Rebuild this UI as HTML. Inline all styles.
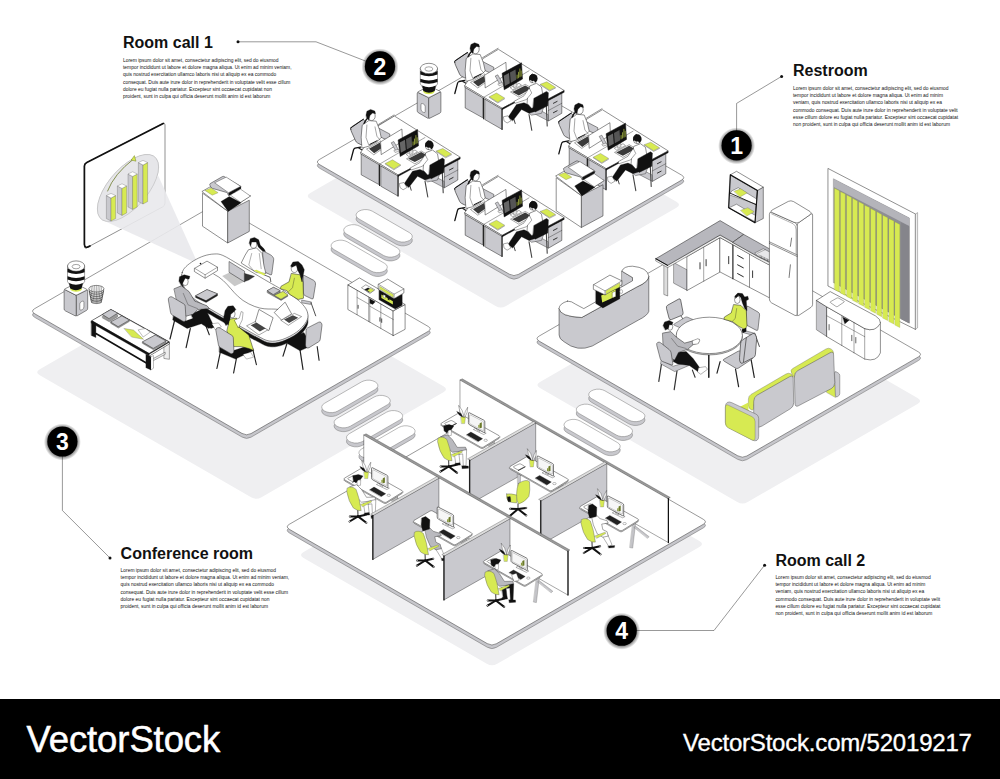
<!DOCTYPE html><html><head><meta charset="utf-8"><title>Office rooms isometric</title><style>html,body{margin:0;padding:0;background:#fff}body{width:1000px;height:779px;overflow:hidden;font-family:"Liberation Sans",sans-serif}svg{display:block}</style></head><body><svg width="1000" height="779" viewBox="0 0 1000 779" font-family="'Liberation Sans', sans-serif"><defs><radialGradient id="glow"><stop offset="0.78" stop-color="#000" stop-opacity="0.5"/><stop offset="1" stop-color="#000" stop-opacity="0"/></radialGradient></defs>
<path d="M39.8 375.2Q34.6 372.2 39.8 369.2L221.7 264.2Q226.9 261.2 232.1 264.2L443.4 386.2Q448.6 389.2 443.4 392.2L261.5 497.2Q256.3 500.2 251.1 497.2Z" fill="#efeff1" stroke="none" stroke-width="0" stroke-linejoin="round" stroke-linecap="round" />
<path d="M310.3 199Q305.1 196 310.3 193L480.6 94.7Q485.8 91.7 491 94.7L676.4 201.7Q681.6 204.7 676.4 207.7L506 306Q500.8 309 495.6 306Z" fill="#efeff1" stroke="none" stroke-width="0" stroke-linejoin="round" stroke-linecap="round" />
<path d="M540 388.1Q534.8 385.1 540 382.1L709.8 284.1Q715 281.1 720.2 284.1L917.5 397.9Q922.7 400.9 917.5 403.9L747.7 502Q742.5 505 737.3 502Z" fill="#efeff1" stroke="none" stroke-width="0" stroke-linejoin="round" stroke-linecap="round" />
<path d="M303.6 558Q298.4 555 303.6 552L505.8 435.2Q511 432.2 516.2 435.2L699.4 541Q704.6 544 699.4 547L497.2 663.8Q492 666.8 486.8 663.8Z" fill="#efeff1" stroke="none" stroke-width="0" stroke-linejoin="round" stroke-linecap="round" />
<path d="M319.4 168.1Q315.1 165.6 319.4 163.1L482.7 68.8Q487 66.3 491.3 68.8L681.6 178.7Q685.9 181.2 681.6 183.7L518.4 278Q514 280.5 509.7 278Z" fill="#c6c6cb" stroke="#666" stroke-width="0.5" stroke-linejoin="round" stroke-linecap="round" /><path d="M319.4 164.5Q315.1 162 319.4 159.5L482.7 65.2Q487 62.8 491.3 65.2L681.6 175.1Q685.9 177.6 681.6 180.1L518.4 274.4Q514 276.9 509.7 274.4Z" fill="#fff" stroke="#444" stroke-width="0.55" stroke-linejoin="round" stroke-linecap="round" />
<path d="M417.2 93.3Q417.2 92.1 418.3 92.6L427.7 97.2Q428.7 97.7 428.7 98.9L428.7 117.6Q428.7 118.8 427.7 118.2L418.3 112.7Q417.2 112.1 417.2 110.9Z" fill="#c9c9ce" stroke="#222" stroke-width="0.5" stroke-linejoin="round" stroke-linecap="round" /><path d="M428.7 98.9Q428.7 97.7 429.8 97.2L439.8 92.1Q440.9 91.6 440.9 92.8L440.9 111.4Q440.9 112.6 439.8 113.2L429.8 118.2Q428.7 118.8 428.7 117.6Z" fill="#c9c9ce" stroke="#222" stroke-width="0.5" stroke-linejoin="round" stroke-linecap="round" /><path d="M418.3 92.6Q417.2 92.1 418.3 91.6L428.2 86.7Q429.3 86.1 430.3 86.6L439.8 91.1Q440.9 91.6 439.8 92.1L429.8 97.2Q428.7 97.7 427.7 97.2Z" fill="#fff" stroke="#222" stroke-width="0.5" stroke-linejoin="round" stroke-linecap="round" /><path d="M421 104.5Q421 102.9 422.5 103.6L423.7 104.2Q425.2 104.9 425.2 106.5L425.2 111.5Q425.2 113.1 423.7 112.4L422.5 111.8Q421 111.1 421 109.5Z" fill="#fff" stroke="#222" stroke-width="0.4" stroke-linejoin="round" stroke-linecap="round" /><ellipse cx="428.9" cy="91.6" rx="5.6" ry="2.6" fill="#d7ea52"/><path d="M420.3 68.5 L420.3 83.9 L424.1 89.5 L433.9 89.5 L437.5 83.9 L437.5 68.5Z" fill="#fff" stroke="#222" stroke-width="0.4" stroke-linejoin="round" stroke-linecap="round" /><path d="M420.3 71.0 Q428.9 74.5 437.5 71.0 L437.5 74.6 Q428.9 78.1 420.3 74.6 Z" fill="#111"/><path d="M420.3 78.7 Q428.9 82.2 437.5 78.7 L437.5 82.0 Q428.9 85.5 420.3 82.0 Z" fill="#111"/><path d="M422.1 85.4 Q429.0 88.9 435.9 85.4 L434.7 90.9 Q429.0 94.4 423.3 90.9 Z" fill="#111"/><ellipse cx="428.9" cy="68.5" rx="8.6" ry="5.2" fill="#fff" stroke="#222" stroke-width="0.5"/><ellipse cx="428.9" cy="69.0" rx="4" ry="2.2" fill="#fff" stroke="#222" stroke-width="0.4"/>
<path d="M 464.6 80.5 L 459.0 81.5 Q 457.8 82.0 457.5 83.3 L 454.8 93.5" fill="none" stroke="#111" stroke-width="1.3" stroke-linejoin="round" stroke-linecap="round" /><polyline points="462.8,81.4 466.5,83.5" fill="none" stroke="#222" stroke-width="1.2" stroke-linejoin="round" stroke-linecap="round" /><path d="M454.7 62.5Q454.4 61 455.6 60.2L466.3 53.1Q467.5 52.3 468.2 53.5L468.2 53.5Q469 54.8 469 56.3L468.8 69.3Q468.8 70.8 468.2 72.2L466.4 77.1Q465.9 78.5 464.6 77.8L461.6 76.3Q460.2 75.5 459.6 74.2L455.6 65.3Q455 63.9 454.7 62.5Z" fill="#c9c9ce" stroke="#222" stroke-width="0.6" stroke-linejoin="round" stroke-linecap="round" /><polyline points="454.6,61.3 467.5,52.5" fill="none" stroke="#111" stroke-width="1.0" stroke-linejoin="round" stroke-linecap="round" /><polygon points="498.4,49.3 564.2,90.5 537.8,104.5 524,96.7 502.1,108.3 464.6,85.8 482.5,58.9" fill="#fff" stroke="#222" stroke-width="0.5" stroke-linejoin="round" /><polyline points="482.5,57.7 498,48.3" fill="none" stroke="#222" stroke-width="0.5" stroke-linejoin="round" stroke-linecap="round" /><polygon points="482.5,61.4 493.8,67.3 493.8,74.5 482.5,69.5" fill="#c9c9ce" stroke="#222" stroke-width="0.5" stroke-linejoin="round" /><polygon points="464.6,85.8 502.1,108.3 502.1,109.8 464.6,87.3" fill="#fff" stroke="#222" stroke-width="0.4" stroke-linejoin="round" /><polygon points="465.2,87.5 482.8,97.9 482.8,117.8 465.2,108" fill="#c9c9ce" stroke="#222" stroke-width="0.5" stroke-linejoin="round" /><polygon points="484.8,99.2 501.9,109.2 501.9,129.3 484.8,119.5" fill="#c9c9ce" stroke="#222" stroke-width="0.5" stroke-linejoin="round" /><polyline points="483.6,98.3 483.6,118.9" fill="none" stroke="#111" stroke-width="1.0" stroke-linejoin="round" stroke-linecap="round" /><polyline points="502.1,108.5 502.1,129.6" fill="none" stroke="#111" stroke-width="1.0" stroke-linejoin="round" stroke-linecap="round" /><polygon points="502.1,108.3 524,96.7 524,97.9 502.1,109.8" fill="#111" stroke="#111" stroke-width="0.3" stroke-linejoin="round" /><polyline points="483.8,97.3 529,70.8" fill="none" stroke="#222" stroke-width="0.4" stroke-linejoin="round" stroke-linecap="round" /><polygon points="534,107 548.4,114.8 548.4,121 534,113.5" fill="#c9c9ce" stroke="#222" stroke-width="0.4" stroke-linejoin="round" /><polygon points="548.4,100.2 561.8,93 561.8,113.3 548.4,121" fill="#c9c9ce" stroke="#222" stroke-width="0.5" stroke-linejoin="round" /><polyline points="548.4,110.5 561.8,103.3" fill="none" stroke="#222" stroke-width="0.4" stroke-linejoin="round" stroke-linecap="round" /><polyline points="553.4,103.3 557.1,101.4" fill="none" stroke="#222" stroke-width="0.9" stroke-linejoin="round" stroke-linecap="round" /><polyline points="553.4,112.7 557.1,110.8" fill="none" stroke="#222" stroke-width="0.9" stroke-linejoin="round" stroke-linecap="round" /><polygon points="537.8,104.5 564.2,90.5 564.2,92.3 537.8,106.3" fill="#111" stroke="#111" stroke-width="0.3" stroke-linejoin="round" /><polygon points="470.5,82.4 484.6,74.5 487.2,81.4 477.8,88" fill="#fff" stroke="#222" stroke-width="0.4" stroke-linejoin="round" /><polygon points="473,82 484,75.9 485.8,81.2 478.2,86.5" fill="#3a3a3a" stroke="none" stroke-width="0" stroke-linejoin="round" /><polygon points="484.6,75.2 505.9,62.3 506.5,74.5 485.2,87.9" fill="#fff" stroke="#222" stroke-width="0.5" stroke-linejoin="round" /><polygon points="495.2,76 497.8,74.8 502.5,83.3 500,84.8" fill="#c9c9ce" stroke="#222" stroke-width="0.4" stroke-linejoin="round" /><polygon points="497.8,83.9 502.1,82.7 503.4,84.5 499,85.8" fill="#eee" stroke="#222" stroke-width="0.3" stroke-linejoin="round" /><polygon points="510.2,87.7 519,83.3 521.5,85.2 512.8,89.8" fill="#fff" stroke="#222" stroke-width="0.4" stroke-linejoin="round" /><polygon points="512.8,83.9 516.5,82.3 517.1,86.4 513.8,88" fill="#ddd" stroke="#222" stroke-width="0.3" stroke-linejoin="round" /><polygon points="502.1,73.3 521.5,62.8 522.5,79 504.2,89.8" fill="#111" stroke="#111" stroke-width="0.5" stroke-linejoin="round" /><polygon points="503.8,75.8 509,73 509.8,83.3 504.8,86" fill="#666" stroke="none" stroke-width="0" stroke-linejoin="round" /><polygon points="510,72.5 515.5,69.5 516.2,79.8 510.8,82.8" fill="#555" stroke="none" stroke-width="0" stroke-linejoin="round" /><polyline points="517.1,78.5 517.1,75" fill="none" stroke="#d7ea52" stroke-width="0.5" stroke-linejoin="round" stroke-linecap="round" stroke-dasharray="0.6 0.4"/><polyline points="518.5,77.8 518.5,71.8" fill="none" stroke="#d7ea52" stroke-width="0.5" stroke-linejoin="round" stroke-linecap="round" stroke-dasharray="0.6 0.4"/><polyline points="519.9,77 519.9,68.8" fill="none" stroke="#d7ea52" stroke-width="0.5" stroke-linejoin="round" stroke-linecap="round" stroke-dasharray="0.6 0.4"/><polyline points="521.2,76.3 521.2,70.8" fill="none" stroke="#d7ea52" stroke-width="0.5" stroke-linejoin="round" stroke-linecap="round" stroke-dasharray="0.6 0.4"/><polygon points="510.5,92 525.2,84.3 533,88.8 518.8,97" fill="#fff" stroke="#222" stroke-width="0.4" stroke-linejoin="round" /><polygon points="512.2,92 525.2,85.4 531.2,88.8 518.8,95.4" fill="#3a3a3a" stroke="none" stroke-width="0" stroke-linejoin="round" /><polygon points="489.2,96.8 496.5,93 504.6,98 497.8,102.3" fill="#d7ea52" stroke="#555" stroke-width="0.3" stroke-linejoin="round" /><polyline points="489.2,97.3 497.8,103 504.6,98.8" fill="none" stroke="#666" stroke-width="0.5" stroke-linejoin="round" stroke-linecap="round" /><polygon points="540.2,84.3 546.8,81.8 555.5,87.3 549.6,90.3" fill="#d7ea52" stroke="#555" stroke-width="0.3" stroke-linejoin="round" /><polyline points="540.2,84.8 549.6,91 555.5,88" fill="none" stroke="#666" stroke-width="0.5" stroke-linejoin="round" stroke-linecap="round" /><path d="M466.5 58.3 L472.8 53.9 L480.2 54.5 L483.4 62.7 L485.2 70.8 L480.9 75.2 L472.8 79.5 L465.9 81.4 L465.2 70.8Z" fill="#fff" stroke="#222" stroke-width="0.5" stroke-linejoin="round" stroke-linecap="round" /><polyline points="470.9,58.3 470,70.8 472.8,78.3" fill="none" stroke="#222" stroke-width="0.4" stroke-linejoin="round" stroke-linecap="round" /><polyline points="479,60.2 480.9,69.5 484,73.3" fill="none" stroke="#222" stroke-width="0.4" stroke-linejoin="round" stroke-linecap="round" /><polygon points="472.8,78.9 480.9,74.5 482.1,73 474,77" fill="#111" stroke="none" stroke-width="0" stroke-linejoin="round" /><polygon points="470,52 471.8,51.5 468.8,56.8 467,57.3" fill="#111" stroke="none" stroke-width="0" stroke-linejoin="round" /><ellipse cx="475.6" cy="49.2" rx="3.6" ry="4.6" fill="#fff" stroke="#222" stroke-width="0.5"/><path d="M470.0 48.3 L470.9 44.5 L474.6 42.7 L478.8 44.3 L479.6 47.0 L476.5 46.4 L474.0 48.9 L472.8 53.3 L470.9 52.0Z" fill="#111" stroke="#111" stroke-width="0.3" stroke-linejoin="round" stroke-linecap="round" /><polyline points="529,114.5 531.8,130.3" fill="none" stroke="#444" stroke-width="1.1" stroke-linejoin="round" stroke-linecap="round" /><polyline points="546.2,103.3 547.2,126" fill="none" stroke="#444" stroke-width="1.1" stroke-linejoin="round" stroke-linecap="round" /><polyline points="514,119.5 515.2,123.5" fill="none" stroke="#444" stroke-width="1.0" stroke-linejoin="round" stroke-linecap="round" /><polygon points="523.4,108.3 534,109.5 544,106.4 541.5,113.3 531.5,115.2" fill="#c9c9ce" stroke="#222" stroke-width="0.4" stroke-linejoin="round" /><path d="M508.0 117.3 L516.5 104.5 L524.0 102.7 L534.0 107.0 L535.2 111.4 L529.0 113.3 L521.5 109.5 L512.8 120.8Z" fill="#111" stroke="#111" stroke-width="0.3" stroke-linejoin="round" stroke-linecap="round" /><polygon points="503.4,116.8 508,115.8 510.9,120.8 507.1,123 504,120.8" fill="#fff" stroke="#222" stroke-width="0.4" stroke-linejoin="round" /><path d="M530.2 85.8 L536.5 83.3 L541.5 87.0 L543.4 98.3 L540.2 106.4 L531.5 108.3 L527.1 103.3 L527.8 93.3Z" fill="#fff" stroke="#222" stroke-width="0.5" stroke-linejoin="round" stroke-linecap="round" /><path d="M529.0 88.3 L524.0 95.8 L514.0 101.4 L515.2 103.3 L526.5 99.5 L531.5 93.3Z" fill="#fff" stroke="#222" stroke-width="0.4" stroke-linejoin="round" stroke-linecap="round" /><path d="M534.0 98.3 L546.5 91.4 L548.4 92.7 L547.8 105.8 L535.2 112.0 L533.0 108.3Z" fill="#111" stroke="#111" stroke-width="0.4" stroke-linejoin="round" stroke-linecap="round" /><ellipse cx="533.4" cy="78.5" rx="4.2" ry="4.6" fill="#111"/><polygon points="530.5,81.4 534,83.3 535.5,82.7 534,80.8" fill="#fff" stroke="#222" stroke-width="0.3" stroke-linejoin="round" /><path d="M 529.5 79.8 Q 528.8 75.2 532.5 74.0" fill="none" stroke="#111" stroke-width="0.9" stroke-linejoin="round" stroke-linecap="round" /><path d="M529.8 79.8 L531.8 80.8 L532.2 83.0 L530.5 82.3Z" fill="#fff" stroke="#222" stroke-width="0.3" stroke-linejoin="round" stroke-linecap="round" />
<path d="M 360.6 147.2 L 355.0 148.2 Q 353.8 148.8 353.5 150.0 L 350.8 160.2" fill="none" stroke="#111" stroke-width="1.3" stroke-linejoin="round" stroke-linecap="round" /><polyline points="358.8,148.1 362.5,150.2" fill="none" stroke="#222" stroke-width="1.2" stroke-linejoin="round" stroke-linecap="round" /><path d="M350.7 129.2Q350.4 127.8 351.6 126.9L362.3 119.8Q363.5 119 364.2 120.2L364.2 120.2Q365 121.5 365 123L364.8 136Q364.8 137.5 364.2 138.9L362.4 143.8Q361.9 145.2 360.6 144.5L357.6 143Q356.2 142.2 355.6 140.9L351.6 132Q351 130.6 350.7 129.2Z" fill="#c9c9ce" stroke="#222" stroke-width="0.6" stroke-linejoin="round" stroke-linecap="round" /><polyline points="350.6,128 363.5,119.2" fill="none" stroke="#111" stroke-width="1.0" stroke-linejoin="round" stroke-linecap="round" /><polygon points="394.4,116 460.2,157.2 433.8,171.2 420,163.4 398.1,175 360.6,152.5 378.5,125.6" fill="#fff" stroke="#222" stroke-width="0.5" stroke-linejoin="round" /><polyline points="378.5,124.4 394,115" fill="none" stroke="#222" stroke-width="0.5" stroke-linejoin="round" stroke-linecap="round" /><polygon points="378.5,128.1 389.8,134 389.8,141.2 378.5,136.2" fill="#c9c9ce" stroke="#222" stroke-width="0.5" stroke-linejoin="round" /><polygon points="360.6,152.5 398.1,175 398.1,176.5 360.6,154" fill="#fff" stroke="#222" stroke-width="0.4" stroke-linejoin="round" /><polygon points="361.2,154.2 378.8,164.6 378.8,184.5 361.2,174.8" fill="#c9c9ce" stroke="#222" stroke-width="0.5" stroke-linejoin="round" /><polygon points="380.8,165.9 397.9,175.9 397.9,196 380.8,186.2" fill="#c9c9ce" stroke="#222" stroke-width="0.5" stroke-linejoin="round" /><polyline points="379.6,165 379.6,185.6" fill="none" stroke="#111" stroke-width="1.0" stroke-linejoin="round" stroke-linecap="round" /><polyline points="398.1,175.2 398.1,196.2" fill="none" stroke="#111" stroke-width="1.0" stroke-linejoin="round" stroke-linecap="round" /><polygon points="398.1,175 420,163.4 420,164.6 398.1,176.5" fill="#111" stroke="#111" stroke-width="0.3" stroke-linejoin="round" /><polyline points="379.8,164 425,137.5" fill="none" stroke="#222" stroke-width="0.4" stroke-linejoin="round" stroke-linecap="round" /><polygon points="430,173.8 444.4,181.5 444.4,187.8 430,180.2" fill="#c9c9ce" stroke="#222" stroke-width="0.4" stroke-linejoin="round" /><polygon points="444.4,166.9 457.8,159.8 457.8,180 444.4,187.8" fill="#c9c9ce" stroke="#222" stroke-width="0.5" stroke-linejoin="round" /><polyline points="444.4,177.2 457.8,170" fill="none" stroke="#222" stroke-width="0.4" stroke-linejoin="round" stroke-linecap="round" /><polyline points="449.4,170 453.1,168.1" fill="none" stroke="#222" stroke-width="0.9" stroke-linejoin="round" stroke-linecap="round" /><polyline points="449.4,179.4 453.1,177.5" fill="none" stroke="#222" stroke-width="0.9" stroke-linejoin="round" stroke-linecap="round" /><polygon points="433.8,171.2 460.2,157.2 460.2,159 433.8,173" fill="#111" stroke="#111" stroke-width="0.3" stroke-linejoin="round" /><polygon points="366.5,149.1 380.6,141.2 383.2,148.1 373.8,154.8" fill="#fff" stroke="#222" stroke-width="0.4" stroke-linejoin="round" /><polygon points="369,148.8 380,142.6 381.8,147.9 374.2,153.2" fill="#3a3a3a" stroke="none" stroke-width="0" stroke-linejoin="round" /><polygon points="380.6,141.9 401.9,129 402.5,141.2 381.2,154.6" fill="#fff" stroke="#222" stroke-width="0.5" stroke-linejoin="round" /><polygon points="391.2,142.8 393.8,141.5 398.5,150 396,151.5" fill="#c9c9ce" stroke="#222" stroke-width="0.4" stroke-linejoin="round" /><polygon points="393.8,150.6 398.1,149.4 399.4,151.2 395,152.5" fill="#eee" stroke="#222" stroke-width="0.3" stroke-linejoin="round" /><polygon points="406.2,154.4 415,150 417.5,151.9 408.8,156.5" fill="#fff" stroke="#222" stroke-width="0.4" stroke-linejoin="round" /><polygon points="408.8,150.6 412.5,149 413.1,153.1 409.8,154.8" fill="#ddd" stroke="#222" stroke-width="0.3" stroke-linejoin="round" /><polygon points="398.1,140 417.5,129.5 418.5,145.8 400.2,156.5" fill="#111" stroke="#111" stroke-width="0.5" stroke-linejoin="round" /><polygon points="399.8,142.5 405,139.8 405.8,150 400.8,152.8" fill="#666" stroke="none" stroke-width="0" stroke-linejoin="round" /><polygon points="406,139.2 411.5,136.2 412.2,146.5 406.8,149.5" fill="#555" stroke="none" stroke-width="0" stroke-linejoin="round" /><polyline points="413.1,145.2 413.1,141.8" fill="none" stroke="#d7ea52" stroke-width="0.5" stroke-linejoin="round" stroke-linecap="round" stroke-dasharray="0.6 0.4"/><polyline points="414.5,144.5 414.5,138.5" fill="none" stroke="#d7ea52" stroke-width="0.5" stroke-linejoin="round" stroke-linecap="round" stroke-dasharray="0.6 0.4"/><polyline points="415.9,143.8 415.9,135.5" fill="none" stroke="#d7ea52" stroke-width="0.5" stroke-linejoin="round" stroke-linecap="round" stroke-dasharray="0.6 0.4"/><polyline points="417.2,143 417.2,137.5" fill="none" stroke="#d7ea52" stroke-width="0.5" stroke-linejoin="round" stroke-linecap="round" stroke-dasharray="0.6 0.4"/><polygon points="406.5,158.8 421.2,151 429,155.5 414.8,163.8" fill="#fff" stroke="#222" stroke-width="0.4" stroke-linejoin="round" /><polygon points="408.2,158.8 421.2,152.1 427.2,155.5 414.8,162.1" fill="#3a3a3a" stroke="none" stroke-width="0" stroke-linejoin="round" /><polygon points="385.2,163.5 392.5,159.8 400.6,164.8 393.8,169" fill="#d7ea52" stroke="#555" stroke-width="0.3" stroke-linejoin="round" /><polyline points="385.2,164 393.8,169.8 400.6,165.5" fill="none" stroke="#666" stroke-width="0.5" stroke-linejoin="round" stroke-linecap="round" /><polygon points="436.2,151 442.8,148.5 451.5,154 445.6,157" fill="#d7ea52" stroke="#555" stroke-width="0.3" stroke-linejoin="round" /><polyline points="436.2,151.5 445.6,157.8 451.5,154.8" fill="none" stroke="#666" stroke-width="0.5" stroke-linejoin="round" stroke-linecap="round" /><path d="M362.5 125.0 L368.8 120.6 L376.2 121.2 L379.4 129.4 L381.2 137.5 L376.9 141.9 L368.8 146.2 L361.9 148.1 L361.2 137.5Z" fill="#fff" stroke="#222" stroke-width="0.5" stroke-linejoin="round" stroke-linecap="round" /><polyline points="366.9,125 366,137.5 368.8,145" fill="none" stroke="#222" stroke-width="0.4" stroke-linejoin="round" stroke-linecap="round" /><polyline points="375,126.9 376.9,136.2 380,140" fill="none" stroke="#222" stroke-width="0.4" stroke-linejoin="round" stroke-linecap="round" /><polygon points="368.8,145.6 376.9,141.2 378.1,139.8 370,143.8" fill="#111" stroke="none" stroke-width="0" stroke-linejoin="round" /><polygon points="366,118.8 367.8,118.2 364.8,123.5 363,124" fill="#111" stroke="none" stroke-width="0" stroke-linejoin="round" /><ellipse cx="371.6" cy="116.0" rx="3.6" ry="4.6" fill="#fff" stroke="#222" stroke-width="0.5"/><path d="M366.0 115.0 L366.9 111.2 L370.6 109.4 L374.8 111.0 L375.6 113.8 L372.5 113.1 L370.0 115.6 L368.8 120.0 L366.9 118.8Z" fill="#111" stroke="#111" stroke-width="0.3" stroke-linejoin="round" stroke-linecap="round" /><polyline points="425,181.2 427.8,197" fill="none" stroke="#444" stroke-width="1.1" stroke-linejoin="round" stroke-linecap="round" /><polyline points="442.2,170 443.2,192.8" fill="none" stroke="#444" stroke-width="1.1" stroke-linejoin="round" stroke-linecap="round" /><polyline points="410,186.2 411.2,190.2" fill="none" stroke="#444" stroke-width="1.0" stroke-linejoin="round" stroke-linecap="round" /><polygon points="419.4,175 430,176.2 440,173.1 437.5,180 427.5,181.9" fill="#c9c9ce" stroke="#222" stroke-width="0.4" stroke-linejoin="round" /><path d="M404.0 184.0 L412.5 171.2 L420.0 169.4 L430.0 173.8 L431.2 178.1 L425.0 180.0 L417.5 176.2 L408.8 187.5Z" fill="#111" stroke="#111" stroke-width="0.3" stroke-linejoin="round" stroke-linecap="round" /><polygon points="399.4,183.5 404,182.5 406.9,187.5 403.1,189.8 400,187.5" fill="#fff" stroke="#222" stroke-width="0.4" stroke-linejoin="round" /><path d="M426.2 152.5 L432.5 150.0 L437.5 153.8 L439.4 165.0 L436.2 173.1 L427.5 175.0 L423.1 170.0 L423.8 160.0Z" fill="#fff" stroke="#222" stroke-width="0.5" stroke-linejoin="round" stroke-linecap="round" /><path d="M425.0 155.0 L420.0 162.5 L410.0 168.1 L411.2 170.0 L422.5 166.2 L427.5 160.0Z" fill="#fff" stroke="#222" stroke-width="0.4" stroke-linejoin="round" stroke-linecap="round" /><path d="M430.0 165.0 L442.5 158.1 L444.4 159.4 L443.8 172.5 L431.2 178.8 L429.0 175.0Z" fill="#111" stroke="#111" stroke-width="0.4" stroke-linejoin="round" stroke-linecap="round" /><ellipse cx="429.4" cy="145.2" rx="4.2" ry="4.6" fill="#111"/><polygon points="426.5,148.1 430,150 431.5,149.4 430,147.5" fill="#fff" stroke="#222" stroke-width="0.3" stroke-linejoin="round" /><path d="M 425.5 146.5 Q 424.8 141.9 428.5 140.8" fill="none" stroke="#111" stroke-width="0.9" stroke-linejoin="round" stroke-linecap="round" /><path d="M425.8 146.5 L427.8 147.5 L428.2 149.8 L426.5 149.0Z" fill="#fff" stroke="#222" stroke-width="0.3" stroke-linejoin="round" stroke-linecap="round" />
<path d="M 568.6 140.9 L 563.0 141.9 Q 561.8 142.4 561.5 143.7 L 558.8 153.9" fill="none" stroke="#111" stroke-width="1.3" stroke-linejoin="round" stroke-linecap="round" /><polyline points="566.8,141.8 570.5,143.9" fill="none" stroke="#222" stroke-width="1.2" stroke-linejoin="round" stroke-linecap="round" /><path d="M558.7 122.9Q558.4 121.5 559.6 120.6L570.3 113.5Q571.5 112.7 572.2 114L572.2 114Q573 115.2 573 116.7L572.8 129.7Q572.8 131.2 572.2 132.6L570.4 137.5Q569.9 138.9 568.6 138.2L565.6 136.7Q564.2 135.9 563.6 134.6L559.6 125.7Q559 124.3 558.7 122.9Z" fill="#c9c9ce" stroke="#222" stroke-width="0.6" stroke-linejoin="round" stroke-linecap="round" /><polyline points="558.6,121.7 571.5,113" fill="none" stroke="#111" stroke-width="1.0" stroke-linejoin="round" stroke-linecap="round" /><polygon points="602.4,109.7 668.2,150.9 641.8,164.9 628,157.1 606.1,168.7 568.6,146.2 586.5,119.3" fill="#fff" stroke="#222" stroke-width="0.5" stroke-linejoin="round" /><polyline points="586.5,118.1 602,108.7" fill="none" stroke="#222" stroke-width="0.5" stroke-linejoin="round" stroke-linecap="round" /><polygon points="586.5,121.8 597.8,127.7 597.8,134.9 586.5,129.9" fill="#c9c9ce" stroke="#222" stroke-width="0.5" stroke-linejoin="round" /><polygon points="568.6,146.2 606.1,168.7 606.1,170.2 568.6,147.7" fill="#fff" stroke="#222" stroke-width="0.4" stroke-linejoin="round" /><polygon points="569.2,147.9 586.8,158.3 586.8,178.2 569.2,168.4" fill="#c9c9ce" stroke="#222" stroke-width="0.5" stroke-linejoin="round" /><polygon points="588.8,159.6 605.9,169.6 605.9,189.7 588.8,179.9" fill="#c9c9ce" stroke="#222" stroke-width="0.5" stroke-linejoin="round" /><polyline points="587.6,158.7 587.6,179.3" fill="none" stroke="#111" stroke-width="1.0" stroke-linejoin="round" stroke-linecap="round" /><polyline points="606.1,168.9 606.1,189.9" fill="none" stroke="#111" stroke-width="1.0" stroke-linejoin="round" stroke-linecap="round" /><polygon points="606.1,168.7 628,157.1 628,158.3 606.1,170.2" fill="#111" stroke="#111" stroke-width="0.3" stroke-linejoin="round" /><polyline points="587.8,157.7 633,131.2" fill="none" stroke="#222" stroke-width="0.4" stroke-linejoin="round" stroke-linecap="round" /><polygon points="638,167.4 652.4,175.2 652.4,181.4 638,173.9" fill="#c9c9ce" stroke="#222" stroke-width="0.4" stroke-linejoin="round" /><polygon points="652.4,160.6 665.8,153.4 665.8,173.7 652.4,181.4" fill="#c9c9ce" stroke="#222" stroke-width="0.5" stroke-linejoin="round" /><polyline points="652.4,170.9 665.8,163.7" fill="none" stroke="#222" stroke-width="0.4" stroke-linejoin="round" stroke-linecap="round" /><polyline points="657.4,163.7 661.1,161.8" fill="none" stroke="#222" stroke-width="0.9" stroke-linejoin="round" stroke-linecap="round" /><polyline points="657.4,173.1 661.1,171.2" fill="none" stroke="#222" stroke-width="0.9" stroke-linejoin="round" stroke-linecap="round" /><polygon points="641.8,164.9 668.2,150.9 668.2,152.7 641.8,166.7" fill="#111" stroke="#111" stroke-width="0.3" stroke-linejoin="round" /><polygon points="574.5,142.8 588.6,134.9 591.2,141.8 581.8,148.4" fill="#fff" stroke="#222" stroke-width="0.4" stroke-linejoin="round" /><polygon points="577,142.4 588,136.3 589.8,141.6 582.2,146.9" fill="#3a3a3a" stroke="none" stroke-width="0" stroke-linejoin="round" /><polygon points="588.6,135.6 609.9,122.7 610.5,134.9 589.2,148.3" fill="#fff" stroke="#222" stroke-width="0.5" stroke-linejoin="round" /><polygon points="599.2,136.4 601.8,135.2 606.5,143.7 604,145.2" fill="#c9c9ce" stroke="#222" stroke-width="0.4" stroke-linejoin="round" /><polygon points="601.8,144.3 606.1,143.1 607.4,144.9 603,146.2" fill="#eee" stroke="#222" stroke-width="0.3" stroke-linejoin="round" /><polygon points="614.2,148.1 623,143.7 625.5,145.6 616.8,150.2" fill="#fff" stroke="#222" stroke-width="0.4" stroke-linejoin="round" /><polygon points="616.8,144.3 620.5,142.7 621.1,146.8 617.8,148.4" fill="#ddd" stroke="#222" stroke-width="0.3" stroke-linejoin="round" /><polygon points="606.1,133.7 625.5,123.2 626.5,139.4 608.2,150.2" fill="#111" stroke="#111" stroke-width="0.5" stroke-linejoin="round" /><polygon points="607.8,136.2 613,133.4 613.8,143.7 608.8,146.4" fill="#666" stroke="none" stroke-width="0" stroke-linejoin="round" /><polygon points="614,132.9 619.5,129.9 620.2,140.2 614.8,143.2" fill="#555" stroke="none" stroke-width="0" stroke-linejoin="round" /><polyline points="621.1,138.9 621.1,135.4" fill="none" stroke="#d7ea52" stroke-width="0.5" stroke-linejoin="round" stroke-linecap="round" stroke-dasharray="0.6 0.4"/><polyline points="622.5,138.2 622.5,132.2" fill="none" stroke="#d7ea52" stroke-width="0.5" stroke-linejoin="round" stroke-linecap="round" stroke-dasharray="0.6 0.4"/><polyline points="623.9,137.4 623.9,129.2" fill="none" stroke="#d7ea52" stroke-width="0.5" stroke-linejoin="round" stroke-linecap="round" stroke-dasharray="0.6 0.4"/><polyline points="625.2,136.7 625.2,131.2" fill="none" stroke="#d7ea52" stroke-width="0.5" stroke-linejoin="round" stroke-linecap="round" stroke-dasharray="0.6 0.4"/><polygon points="614.5,152.4 629.2,144.7 637,149.2 622.8,157.4" fill="#fff" stroke="#222" stroke-width="0.4" stroke-linejoin="round" /><polygon points="616.2,152.4 629.2,145.8 635.2,149.2 622.8,155.8" fill="#3a3a3a" stroke="none" stroke-width="0" stroke-linejoin="round" /><polygon points="593.2,157.2 600.5,153.4 608.6,158.4 601.8,162.7" fill="#d7ea52" stroke="#555" stroke-width="0.3" stroke-linejoin="round" /><polyline points="593.2,157.7 601.8,163.4 608.6,159.2" fill="none" stroke="#666" stroke-width="0.5" stroke-linejoin="round" stroke-linecap="round" /><polygon points="644.2,144.7 650.8,142.2 659.5,147.7 653.6,150.7" fill="#d7ea52" stroke="#555" stroke-width="0.3" stroke-linejoin="round" /><polyline points="644.2,145.2 653.6,151.4 659.5,148.4" fill="none" stroke="#666" stroke-width="0.5" stroke-linejoin="round" stroke-linecap="round" /><path d="M570.5 118.7 L576.8 114.3 L584.2 115.0 L587.4 123.1 L589.2 131.2 L584.9 135.6 L576.8 139.9 L569.9 141.8 L569.2 131.2Z" fill="#fff" stroke="#222" stroke-width="0.5" stroke-linejoin="round" stroke-linecap="round" /><polyline points="574.9,118.7 574,131.2 576.8,138.7" fill="none" stroke="#222" stroke-width="0.4" stroke-linejoin="round" stroke-linecap="round" /><polyline points="583,120.6 584.9,129.9 588,133.7" fill="none" stroke="#222" stroke-width="0.4" stroke-linejoin="round" stroke-linecap="round" /><polygon points="576.8,139.3 584.9,134.9 586.1,133.4 578,137.4" fill="#111" stroke="none" stroke-width="0" stroke-linejoin="round" /><polygon points="574,112.5 575.8,112 572.8,117.2 571,117.7" fill="#111" stroke="none" stroke-width="0" stroke-linejoin="round" /><ellipse cx="579.6" cy="109.7" rx="3.6" ry="4.6" fill="#fff" stroke="#222" stroke-width="0.5"/><path d="M574.0 108.7 L574.9 105.0 L578.6 103.1 L582.8 104.7 L583.6 107.5 L580.5 106.8 L578.0 109.3 L576.8 113.7 L574.9 112.5Z" fill="#111" stroke="#111" stroke-width="0.3" stroke-linejoin="round" stroke-linecap="round" /><polyline points="633,174.9 635.8,190.7" fill="none" stroke="#444" stroke-width="1.1" stroke-linejoin="round" stroke-linecap="round" /><polyline points="650.2,163.7 651.2,186.4" fill="none" stroke="#444" stroke-width="1.1" stroke-linejoin="round" stroke-linecap="round" /><polyline points="618,179.9 619.2,183.9" fill="none" stroke="#444" stroke-width="1.0" stroke-linejoin="round" stroke-linecap="round" /><polygon points="627.4,168.7 638,169.9 648,166.8 645.5,173.7 635.5,175.6" fill="#c9c9ce" stroke="#222" stroke-width="0.4" stroke-linejoin="round" /><path d="M612.0 177.7 L620.5 164.9 L628.0 163.1 L638.0 167.4 L639.2 171.8 L633.0 173.7 L625.5 169.9 L616.8 181.2Z" fill="#111" stroke="#111" stroke-width="0.3" stroke-linejoin="round" stroke-linecap="round" /><polygon points="607.4,177.2 612,176.2 614.9,181.2 611.1,183.4 608,181.2" fill="#fff" stroke="#222" stroke-width="0.4" stroke-linejoin="round" /><path d="M634.2 146.2 L640.5 143.7 L645.5 147.4 L647.4 158.7 L644.2 166.8 L635.5 168.7 L631.1 163.7 L631.8 153.7Z" fill="#fff" stroke="#222" stroke-width="0.5" stroke-linejoin="round" stroke-linecap="round" /><path d="M633.0 148.7 L628.0 156.2 L618.0 161.8 L619.2 163.7 L630.5 159.9 L635.5 153.7Z" fill="#fff" stroke="#222" stroke-width="0.4" stroke-linejoin="round" stroke-linecap="round" /><path d="M638.0 158.7 L650.5 151.8 L652.4 153.1 L651.8 166.2 L639.2 172.4 L637.0 168.7Z" fill="#111" stroke="#111" stroke-width="0.4" stroke-linejoin="round" stroke-linecap="round" /><ellipse cx="637.4" cy="138.9" rx="4.2" ry="4.6" fill="#111"/><polygon points="634.5,141.8 638,143.7 639.5,143.1 638,141.2" fill="#fff" stroke="#222" stroke-width="0.3" stroke-linejoin="round" /><path d="M 633.5 140.2 Q 632.8 135.6 636.5 134.4" fill="none" stroke="#111" stroke-width="0.9" stroke-linejoin="round" stroke-linecap="round" /><path d="M633.8 140.2 L635.8 141.2 L636.2 143.4 L634.5 142.7Z" fill="#fff" stroke="#222" stroke-width="0.3" stroke-linejoin="round" stroke-linecap="round" />
<polygon points="556.2,177.7 581.4,195.7 581.4,227.5 556.2,210.7" fill="#fff" stroke="#222" stroke-width="0.5" stroke-linejoin="round" /><polygon points="581.4,195.7 603,184.7 603,215.9 581.4,227.5" fill="#c9c9ce" stroke="#222" stroke-width="0.5" stroke-linejoin="round" /><polygon points="555.6,176 563.7,171.4 604.2,180.3 581.4,195.7" fill="#fff" stroke="#222" stroke-width="0.5" stroke-linejoin="round" /><polygon points="574.7,186.1 583,181 594.9,187.2 581.8,195.9" fill="#111" stroke="#111" stroke-width="0.3" stroke-linejoin="round" /><polygon points="583.9,179.5 594.3,173.7 604.2,180.6 594.3,186.8" fill="#fff" stroke="#222" stroke-width="0.4" stroke-linejoin="round" /><path d="M563.5 169.4Q563.1 168.5 564 168L576.1 161.1Q577 160.6 577.9 161.1L594.6 170.9Q595.5 171.4 594.7 171.9L583 179.7Q582.2 180.3 581.8 179.4L581.4 178.1Q581 177.2 580.1 176.9L565.8 172.8Q564.9 172.5 564.5 171.6Z" fill="#c9c9ce" stroke="#222" stroke-width="0.5" stroke-linejoin="round" stroke-linecap="round" /><polygon points="568.3,167.3 579.9,161.6 594.3,170.8 582.2,177.2" fill="#fff" stroke="#222" stroke-width="0.4" stroke-linejoin="round" /><polygon points="582.2,177.5 594.3,171 594.9,173.1 582.5,180.3" fill="#111" stroke="none" stroke-width="0" stroke-linejoin="round" /><polygon points="558.5,174.9 564.9,172.5 571.8,177.2 566,179.7" fill="#d7ea52" stroke="#666" stroke-width="0.3" stroke-linejoin="round" />
<path d="M 464.6 207.7 L 459.0 208.7 Q 457.8 209.2 457.5 210.4 L 454.8 220.7" fill="none" stroke="#111" stroke-width="1.3" stroke-linejoin="round" stroke-linecap="round" /><polyline points="462.8,208.5 466.5,210.7" fill="none" stroke="#222" stroke-width="1.2" stroke-linejoin="round" stroke-linecap="round" /><path d="M454.7 189.6Q454.4 188.2 455.6 187.3L466.3 180.2Q467.5 179.4 468.2 180.7L468.2 180.7Q469 181.9 469 183.4L468.8 196.4Q468.8 197.9 468.2 199.3L466.4 204.2Q465.9 205.7 464.6 204.9L461.6 203.4Q460.2 202.7 459.6 201.3L455.6 192.4Q455 191 454.7 189.6Z" fill="#c9c9ce" stroke="#222" stroke-width="0.6" stroke-linejoin="round" stroke-linecap="round" /><polyline points="454.6,188.4 467.5,179.7" fill="none" stroke="#111" stroke-width="1.0" stroke-linejoin="round" stroke-linecap="round" /><polygon points="498.4,176.4 564.2,217.7 537.8,231.7 524,223.8 502.1,235.4 464.6,212.9 482.5,186" fill="#fff" stroke="#222" stroke-width="0.5" stroke-linejoin="round" /><polyline points="482.5,184.8 498,175.4" fill="none" stroke="#222" stroke-width="0.5" stroke-linejoin="round" stroke-linecap="round" /><polygon points="482.5,188.5 493.8,194.4 493.8,201.7 482.5,196.7" fill="#c9c9ce" stroke="#222" stroke-width="0.5" stroke-linejoin="round" /><polygon points="464.6,212.9 502.1,235.4 502.1,236.9 464.6,214.4" fill="#fff" stroke="#222" stroke-width="0.4" stroke-linejoin="round" /><polygon points="465.2,214.7 482.8,225 482.8,244.9 465.2,235.2" fill="#c9c9ce" stroke="#222" stroke-width="0.5" stroke-linejoin="round" /><polygon points="484.8,226.3 501.9,236.3 501.9,256.4 484.8,246.7" fill="#c9c9ce" stroke="#222" stroke-width="0.5" stroke-linejoin="round" /><polyline points="483.6,225.4 483.6,246" fill="none" stroke="#111" stroke-width="1.0" stroke-linejoin="round" stroke-linecap="round" /><polyline points="502.1,235.7 502.1,256.6" fill="none" stroke="#111" stroke-width="1.0" stroke-linejoin="round" stroke-linecap="round" /><polygon points="502.1,235.4 524,223.8 524,225 502.1,236.9" fill="#111" stroke="#111" stroke-width="0.3" stroke-linejoin="round" /><polyline points="483.8,224.4 529,197.9" fill="none" stroke="#222" stroke-width="0.4" stroke-linejoin="round" stroke-linecap="round" /><polygon points="534,234.2 548.4,241.9 548.4,248.2 534,240.7" fill="#c9c9ce" stroke="#222" stroke-width="0.4" stroke-linejoin="round" /><polygon points="548.4,227.3 561.8,220.2 561.8,240.4 548.4,248.2" fill="#c9c9ce" stroke="#222" stroke-width="0.5" stroke-linejoin="round" /><polyline points="548.4,237.7 561.8,230.4" fill="none" stroke="#222" stroke-width="0.4" stroke-linejoin="round" stroke-linecap="round" /><polyline points="553.4,230.4 557.1,228.5" fill="none" stroke="#222" stroke-width="0.9" stroke-linejoin="round" stroke-linecap="round" /><polyline points="553.4,239.8 557.1,237.9" fill="none" stroke="#222" stroke-width="0.9" stroke-linejoin="round" stroke-linecap="round" /><polygon points="537.8,231.7 564.2,217.7 564.2,219.4 537.8,233.4" fill="#111" stroke="#111" stroke-width="0.3" stroke-linejoin="round" /><polygon points="470.5,209.5 484.6,201.7 487.2,208.5 477.8,215.2" fill="#fff" stroke="#222" stroke-width="0.4" stroke-linejoin="round" /><polygon points="473,209.2 484,203 485.8,208.3 478.2,213.7" fill="#3a3a3a" stroke="none" stroke-width="0" stroke-linejoin="round" /><polygon points="484.6,202.3 505.9,189.4 506.5,201.7 485.2,215" fill="#fff" stroke="#222" stroke-width="0.5" stroke-linejoin="round" /><polygon points="495.2,203.2 497.8,201.9 502.5,210.4 500,211.9" fill="#c9c9ce" stroke="#222" stroke-width="0.4" stroke-linejoin="round" /><polygon points="497.8,211 502.1,209.8 503.4,211.7 499,212.9" fill="#eee" stroke="#222" stroke-width="0.3" stroke-linejoin="round" /><polygon points="510.2,214.8 519,210.4 521.5,212.3 512.8,216.9" fill="#fff" stroke="#222" stroke-width="0.4" stroke-linejoin="round" /><polygon points="512.8,211 516.5,209.4 517.1,213.5 513.8,215.2" fill="#ddd" stroke="#222" stroke-width="0.3" stroke-linejoin="round" /><polygon points="502.1,200.4 521.5,189.9 522.5,206.2 504.2,216.9" fill="#111" stroke="#111" stroke-width="0.5" stroke-linejoin="round" /><polygon points="503.8,202.9 509,200.2 509.8,210.4 504.8,213.2" fill="#666" stroke="none" stroke-width="0" stroke-linejoin="round" /><polygon points="510,199.7 515.5,196.7 516.2,206.9 510.8,209.9" fill="#555" stroke="none" stroke-width="0" stroke-linejoin="round" /><polyline points="517.1,205.7 517.1,202.2" fill="none" stroke="#d7ea52" stroke-width="0.5" stroke-linejoin="round" stroke-linecap="round" stroke-dasharray="0.6 0.4"/><polyline points="518.5,204.9 518.5,198.9" fill="none" stroke="#d7ea52" stroke-width="0.5" stroke-linejoin="round" stroke-linecap="round" stroke-dasharray="0.6 0.4"/><polyline points="519.9,204.2 519.9,195.9" fill="none" stroke="#d7ea52" stroke-width="0.5" stroke-linejoin="round" stroke-linecap="round" stroke-dasharray="0.6 0.4"/><polyline points="521.2,203.4 521.2,197.9" fill="none" stroke="#d7ea52" stroke-width="0.5" stroke-linejoin="round" stroke-linecap="round" stroke-dasharray="0.6 0.4"/><polygon points="510.5,219.2 525.2,211.4 533,215.9 518.8,224.2" fill="#fff" stroke="#222" stroke-width="0.4" stroke-linejoin="round" /><polygon points="512.2,219.2 525.2,212.5 531.2,215.9 518.8,222.5" fill="#3a3a3a" stroke="none" stroke-width="0" stroke-linejoin="round" /><polygon points="489.2,223.9 496.5,220.2 504.6,225.2 497.8,229.4" fill="#d7ea52" stroke="#555" stroke-width="0.3" stroke-linejoin="round" /><polyline points="489.2,224.4 497.8,230.2 504.6,225.9" fill="none" stroke="#666" stroke-width="0.5" stroke-linejoin="round" stroke-linecap="round" /><polygon points="540.2,211.4 546.8,208.9 555.5,214.4 549.6,217.4" fill="#d7ea52" stroke="#555" stroke-width="0.3" stroke-linejoin="round" /><polyline points="540.2,211.9 549.6,218.2 555.5,215.2" fill="none" stroke="#666" stroke-width="0.5" stroke-linejoin="round" stroke-linecap="round" /><path d="M466.5 185.4 L472.8 181.0 L480.2 181.7 L483.4 189.8 L485.2 197.9 L480.9 202.3 L472.8 206.7 L465.9 208.5 L465.2 197.9Z" fill="#fff" stroke="#222" stroke-width="0.5" stroke-linejoin="round" stroke-linecap="round" /><polyline points="470.9,185.4 470,197.9 472.8,205.4" fill="none" stroke="#222" stroke-width="0.4" stroke-linejoin="round" stroke-linecap="round" /><polyline points="479,187.3 480.9,196.7 484,200.4" fill="none" stroke="#222" stroke-width="0.4" stroke-linejoin="round" stroke-linecap="round" /><polygon points="472.8,206 480.9,201.7 482.1,200.2 474,204.2" fill="#111" stroke="none" stroke-width="0" stroke-linejoin="round" /><polygon points="470,179.2 471.8,178.7 468.8,183.9 467,184.4" fill="#111" stroke="none" stroke-width="0" stroke-linejoin="round" /><ellipse cx="475.6" cy="176.3" rx="3.6" ry="4.6" fill="#fff" stroke="#222" stroke-width="0.5"/><path d="M470.0 175.4 L470.9 171.7 L474.6 169.8 L478.8 171.4 L479.6 174.2 L476.5 173.5 L474.0 176.0 L472.8 180.4 L470.9 179.2Z" fill="#111" stroke="#111" stroke-width="0.3" stroke-linejoin="round" stroke-linecap="round" /><polyline points="529,241.7 531.8,257.4" fill="none" stroke="#444" stroke-width="1.1" stroke-linejoin="round" stroke-linecap="round" /><polyline points="546.2,230.4 547.2,253.2" fill="none" stroke="#444" stroke-width="1.1" stroke-linejoin="round" stroke-linecap="round" /><polyline points="514,246.7 515.2,250.7" fill="none" stroke="#444" stroke-width="1.0" stroke-linejoin="round" stroke-linecap="round" /><polygon points="523.4,235.4 534,236.7 544,233.5 541.5,240.4 531.5,242.3" fill="#c9c9ce" stroke="#222" stroke-width="0.4" stroke-linejoin="round" /><path d="M508.0 244.4 L516.5 231.7 L524.0 229.8 L534.0 234.2 L535.2 238.5 L529.0 240.4 L521.5 236.7 L512.8 247.9Z" fill="#111" stroke="#111" stroke-width="0.3" stroke-linejoin="round" stroke-linecap="round" /><polygon points="503.4,243.9 508,242.9 510.9,247.9 507.1,250.2 504,247.9" fill="#fff" stroke="#222" stroke-width="0.4" stroke-linejoin="round" /><path d="M530.2 212.9 L536.5 210.4 L541.5 214.2 L543.4 225.4 L540.2 233.5 L531.5 235.4 L527.1 230.4 L527.8 220.4Z" fill="#fff" stroke="#222" stroke-width="0.5" stroke-linejoin="round" stroke-linecap="round" /><path d="M529.0 215.4 L524.0 222.9 L514.0 228.5 L515.2 230.4 L526.5 226.7 L531.5 220.4Z" fill="#fff" stroke="#222" stroke-width="0.4" stroke-linejoin="round" stroke-linecap="round" /><path d="M534.0 225.4 L546.5 218.5 L548.4 219.8 L547.8 232.9 L535.2 239.2 L533.0 235.4Z" fill="#111" stroke="#111" stroke-width="0.4" stroke-linejoin="round" stroke-linecap="round" /><ellipse cx="533.4" cy="205.7" rx="4.2" ry="4.6" fill="#111"/><polygon points="530.5,208.5 534,210.4 535.5,209.8 534,207.9" fill="#fff" stroke="#222" stroke-width="0.3" stroke-linejoin="round" /><path d="M 529.5 206.9 Q 528.8 202.3 532.5 201.2" fill="none" stroke="#111" stroke-width="0.9" stroke-linejoin="round" stroke-linecap="round" /><path d="M529.8 206.9 L531.8 207.9 L532.2 210.2 L530.5 209.4Z" fill="#fff" stroke="#222" stroke-width="0.3" stroke-linejoin="round" stroke-linecap="round" />
<polygon points="396.1,244.2 398.5,245.2 401.3,245.8 404.3,245.8 407.1,245.2 409.5,244.2 411.3,242.8 412.2,241.2 412.2,239.5 411.3,237.9 409.5,236.5 372.3,215 369.9,214 367.1,213.4 364.1,213.4 361.3,214 358.9,215 357.1,216.4 356.2,218 356.2,219.7 357.1,221.3 358.9,222.7" fill="#c8c8cd" stroke="#777" stroke-width="0.5" stroke-linejoin="round" /><polygon points="396.1,240.4 398.5,241.4 401.3,242 404.3,242 407.1,241.4 409.5,240.4 411.3,239 412.2,237.4 412.2,235.7 411.3,234.1 409.5,232.7 372.3,211.2 369.9,210.2 367.1,209.6 364.1,209.6 361.3,210.2 358.9,211.2 357.1,212.6 356.2,214.2 356.2,215.9 357.1,217.5 358.9,218.9" fill="#fff" stroke="#777" stroke-width="0.5" stroke-linejoin="round" />
<polygon points="383.7,259.3 386.1,260.3 388.9,260.9 391.9,260.9 394.7,260.3 397.1,259.3 398.9,257.9 399.8,256.3 399.8,254.6 398.9,253 397.1,251.6 359.9,230.1 357.5,229.1 354.7,228.5 351.7,228.5 348.9,229.1 346.5,230.1 344.7,231.5 343.8,233.1 343.8,234.8 344.7,236.4 346.5,237.8" fill="#c8c8cd" stroke="#777" stroke-width="0.5" stroke-linejoin="round" /><polygon points="383.7,255.5 386.1,256.5 388.9,257.1 391.9,257.1 394.7,256.5 397.1,255.5 398.9,254.1 399.8,252.5 399.8,250.8 398.9,249.2 397.1,247.8 359.9,226.3 357.5,225.3 354.7,224.7 351.7,224.7 348.9,225.3 346.5,226.3 344.7,227.7 343.8,229.3 343.8,231 344.7,232.6 346.5,234" fill="#fff" stroke="#777" stroke-width="0.5" stroke-linejoin="round" />
<polygon points="371.1,274.8 373.5,275.8 376.3,276.4 379.3,276.4 382.1,275.8 384.5,274.8 386.3,273.4 387.2,271.8 387.2,270.1 386.3,268.5 384.5,267.1 347.3,245.6 344.9,244.6 342.1,244 339.1,244 336.3,244.6 333.9,245.6 332.1,247 331.2,248.6 331.2,250.3 332.1,251.9 333.9,253.3" fill="#c8c8cd" stroke="#777" stroke-width="0.5" stroke-linejoin="round" /><polygon points="371.1,271 373.5,272 376.3,272.6 379.3,272.6 382.1,272 384.5,271 386.3,269.6 387.2,268 387.2,266.3 386.3,264.7 384.5,263.3 347.3,241.8 344.9,240.8 342.1,240.2 339.1,240.2 336.3,240.8 333.9,241.8 332.1,243.2 331.2,244.8 331.2,246.5 332.1,248.1 333.9,249.5" fill="#fff" stroke="#777" stroke-width="0.5" stroke-linejoin="round" />
<path d="M34.6 317.3Q30.3 314.8 34.6 312.3L211.7 210Q216.1 207.5 220.4 210L428.1 330Q432.4 332.5 428.1 335L251 437.2Q246.6 439.7 242.3 437.2Z" fill="#c6c6cb" stroke="#666" stroke-width="0.5" stroke-linejoin="round" stroke-linecap="round" /><path d="M34.6 313.7Q30.3 311.2 34.6 308.7L211.7 206.4Q216.1 203.9 220.4 206.4L428.1 326.4Q432.4 328.9 428.1 331.4L251 433.6Q246.6 436.1 242.3 433.6Z" fill="#fff" stroke="#444" stroke-width="0.55" stroke-linejoin="round" stroke-linecap="round" />
<path d="M84.4 166.1Q84.4 163.6 86.6 162.5L162.8 123.5Q165 122.4 165 124.9L165 203.1Q165 205.6 162.8 206.8L86.6 247.8Q84.4 249 84.4 246.5Z" fill="#fff" stroke="#222" stroke-width="0.5" stroke-linejoin="round" stroke-linecap="round" /><ellipse cx="0" cy="0" rx="32" ry="25" transform="translate(128.0,188.0) matrix(1,-0.51,0,1,0,0) rotate(-28)" fill="#e6e6e9" stroke="#999" stroke-width="0.3"/><polygon points="104.4,221 198,264 158.4,176" fill="#e9e9ec" stroke="none" stroke-width="0" stroke-linejoin="round" opacity="0.9"/><ellipse cx="0" cy="0" rx="32" ry="25" transform="translate(128.0,188.0) matrix(1,-0.51,0,1,0,0) rotate(-28)" fill="#e6e6e9" stroke="#999" stroke-width="0.3"/><path d="M 90.0 246.0 Q 84.8 249.2 84.4 244.4 L 84.4 166.0 Q 84.4 163.6 86.8 162.4 L 163.2 123.4" fill="none" stroke="#111" stroke-width="1.7" stroke-linejoin="round" stroke-linecap="round" /><polygon points="106.4,195.6 111,198 111,221 106.4,218.6" fill="#c9c9ce" stroke="#555" stroke-width="0.3" stroke-linejoin="round" /><polygon points="111,198 115.6,195.6 115.6,218.6 111,221" fill="#d7ea52" stroke="#555" stroke-width="0.3" stroke-linejoin="round" /><polygon points="106.4,195.6 111,193.4 115.6,195.6 111,198" fill="#fff" stroke="#555" stroke-width="0.3" stroke-linejoin="round" /><polygon points="117.4,186 122,188.4 122,215.4 117.4,213" fill="#c9c9ce" stroke="#555" stroke-width="0.3" stroke-linejoin="round" /><polygon points="122,188.4 126.6,186 126.6,213 122,215.4" fill="#d7ea52" stroke="#555" stroke-width="0.3" stroke-linejoin="round" /><polygon points="117.4,186 122,183.8 126.6,186 122,188.4" fill="#fff" stroke="#555" stroke-width="0.3" stroke-linejoin="round" /><polygon points="128,174 132.6,176.4 132.6,209.4 128,207" fill="#c9c9ce" stroke="#555" stroke-width="0.3" stroke-linejoin="round" /><polygon points="132.6,176.4 137.2,174 137.2,207 132.6,209.4" fill="#d7ea52" stroke="#555" stroke-width="0.3" stroke-linejoin="round" /><polygon points="128,174 132.6,171.8 137.2,174 132.6,176.4" fill="#fff" stroke="#555" stroke-width="0.3" stroke-linejoin="round" /><polygon points="138.4,162.6 143,165 143,204 138.4,201.6" fill="#c9c9ce" stroke="#555" stroke-width="0.3" stroke-linejoin="round" /><polygon points="143,165 147.6,162.6 147.6,201.6 143,204" fill="#d7ea52" stroke="#555" stroke-width="0.3" stroke-linejoin="round" /><polygon points="138.4,162.6 143,160.4 147.6,162.6 143,165" fill="#fff" stroke="#555" stroke-width="0.3" stroke-linejoin="round" /><path d="M107.6 191.0 Q114.0 174.0 133.6 159.0" fill="none" stroke="#5a6a10" stroke-width="0.7" stroke-linejoin="round" stroke-linecap="round" /><polygon points="131.2,160 134.4,155.6 136,161.2" fill="#d7ea52" stroke="#5a6a10" stroke-width="0.4" stroke-linejoin="round" />
<polygon points="202.5,193.2 227.7,211.2 227.7,243 202.5,226.2" fill="#fff" stroke="#222" stroke-width="0.5" stroke-linejoin="round" /><polygon points="227.7,211.2 249.3,200.2 249.3,231.4 227.7,243" fill="#c9c9ce" stroke="#222" stroke-width="0.5" stroke-linejoin="round" /><polygon points="201.9,191.5 210,186.9 250.5,195.8 227.7,211.2" fill="#fff" stroke="#222" stroke-width="0.5" stroke-linejoin="round" /><polygon points="221,201.6 229.3,196.5 241.2,202.7 228.1,211.4" fill="#111" stroke="#111" stroke-width="0.3" stroke-linejoin="round" /><polygon points="230.2,195 240.6,189.2 250.5,196.1 240.6,202.3" fill="#fff" stroke="#222" stroke-width="0.4" stroke-linejoin="round" /><path d="M209.8 184.9Q209.4 184 210.3 183.5L222.4 176.6Q223.3 176.1 224.2 176.6L240.9 186.4Q241.8 186.9 241 187.4L229.3 195.2Q228.5 195.8 228.1 194.9L227.7 193.6Q227.3 192.7 226.4 192.4L212.1 188.3Q211.2 188 210.8 187.1Z" fill="#c9c9ce" stroke="#222" stroke-width="0.5" stroke-linejoin="round" stroke-linecap="round" /><polygon points="214.6,182.8 226.2,177.1 240.6,186.3 228.5,192.7" fill="#fff" stroke="#222" stroke-width="0.4" stroke-linejoin="round" /><polygon points="228.5,193 240.6,186.5 241.2,188.6 228.8,195.8" fill="#111" stroke="none" stroke-width="0" stroke-linejoin="round" /><polygon points="204.8,190.4 211.2,188 218.1,192.7 212.3,195.2" fill="#d7ea52" stroke="#666" stroke-width="0.3" stroke-linejoin="round" />
<g transform="translate(151.8,0) scale(-1,1)"><path d="M64.1 290.9Q64.1 289.7 65.2 290.2L74.5 294.8Q75.6 295.3 75.6 296.5L75.6 315.2Q75.6 316.4 74.6 315.8L65.1 310.3Q64.1 309.7 64.1 308.5Z" fill="#c9c9ce" stroke="#222" stroke-width="0.5" stroke-linejoin="round" stroke-linecap="round" /><path d="M75.6 296.5Q75.6 295.3 76.7 294.8L86.6 289.7Q87.7 289.2 87.7 290.4L87.7 309Q87.7 310.2 86.6 310.8L76.7 315.8Q75.6 316.4 75.6 315.2Z" fill="#c9c9ce" stroke="#222" stroke-width="0.5" stroke-linejoin="round" stroke-linecap="round" /><path d="M65.2 290.2Q64.1 289.7 65.2 289.2L75 284.3Q76.1 283.7 77.2 284.2L86.6 288.7Q87.7 289.2 86.6 289.7L76.7 294.8Q75.6 295.3 74.5 294.8Z" fill="#fff" stroke="#222" stroke-width="0.5" stroke-linejoin="round" stroke-linecap="round" /><path d="M67.9 302.1Q67.9 300.5 69.3 301.2L70.6 301.8Q72 302.5 72 304.1L72 309.1Q72 310.7 70.6 310L69.3 309.4Q67.9 308.7 67.9 307.1Z" fill="#fff" stroke="#222" stroke-width="0.4" stroke-linejoin="round" stroke-linecap="round" /><ellipse cx="75.7" cy="289.2" rx="5.6" ry="2.6" fill="#d7ea52"/><path d="M67.2 266.1 L67.2 281.5 L71.0 287.1 L80.7 287.1 L84.3 281.5 L84.3 266.1Z" fill="#fff" stroke="#222" stroke-width="0.4" stroke-linejoin="round" stroke-linecap="round" /><path d="M67.2 268.6 Q75.8 272.1 84.3 268.6 L84.3 272.2 Q75.8 275.7 67.2 272.2 Z" fill="#111"/><path d="M67.2 276.3 Q75.8 279.8 84.3 276.3 L84.3 279.6 Q75.8 283.1 67.2 279.6 Z" fill="#111"/><path d="M68.9 283.0 Q75.9 286.5 82.8 283.0 L81.6 288.5 Q75.9 292.0 70.2 288.5 Z" fill="#111"/><ellipse cx="75.7" cy="266.1" rx="8.6" ry="5.2" fill="#fff" stroke="#222" stroke-width="0.5"/><ellipse cx="75.7" cy="266.6" rx="4" ry="2.2" fill="#fff" stroke="#222" stroke-width="0.4"/></g>
<path d="M164.3 342.7 L169.4 342.7 L169.4 359.3 L164.3 358.5Z" fill="#eee" stroke="#222" stroke-width="0.4" stroke-linejoin="round" stroke-linecap="round" /><path d="M151.8 359.3 L165.2 352.2 L165.2 354.3 L151.8 361.5Z" fill="#eee" stroke="#222" stroke-width="0.4" stroke-linejoin="round" stroke-linecap="round" /><polyline points="95.9,333.5 146.8,363.2" fill="none" stroke="#111" stroke-width="1.6" stroke-linejoin="round" stroke-linecap="round" /><path d="M91.4 321.0 L95.9 323.5 L95.9 337.6 L91.4 335.5Z" fill="#111" stroke="#111" stroke-width="0.3" stroke-linejoin="round" stroke-linecap="round" /><path d="M146.0 354.3 L151.0 356.8 L151.0 369.9 L146.0 367.7Z" fill="#111" stroke="#111" stroke-width="0.3" stroke-linejoin="round" stroke-linecap="round" /><path d="M151.0 356.8 L153.5 355.5 L153.5 368.2 L151.0 369.9Z" fill="#fff" stroke="#222" stroke-width="0.3" stroke-linejoin="round" stroke-linecap="round" /><path d="M91.4 321.0 L110.9 309.3 L169.4 341.8 L169.4 343.8 L149.3 356.0 L91.4 323.0Z" fill="#111" stroke="#111" stroke-width="0.3" stroke-linejoin="round" stroke-linecap="round" /><path d="M149.3 354.3 L169.4 342.2 L169.4 343.8 L149.3 356.0Z" fill="#fff" stroke="#222" stroke-width="0.3" stroke-linejoin="round" stroke-linecap="round" /><path d="M92.1 320.5 L110.9 309.8 L168.5 341.8 L149.3 353.2Z" fill="#fff" stroke="#222" stroke-width="0.4" stroke-linejoin="round" stroke-linecap="round" /><path d="M102.6 315.9 L110.9 310.9 L117.6 314.8 L117.6 316.8 L109.3 321.8 L102.6 318.1Z" fill="#999" stroke="#222" stroke-width="0.3" stroke-linejoin="round" stroke-linecap="round" /><path d="M102.6 314.3 L110.9 309.6 L117.6 313.1 L109.3 318.4Z" fill="#c9c9ce" stroke="#222" stroke-width="0.4" stroke-linejoin="round" stroke-linecap="round" /><path d="M110.9 321.8 L121.8 315.9 L129.3 320.1 L129.3 321.5 L118.4 328.1 L110.9 323.5Z" fill="#999" stroke="#222" stroke-width="0.3" stroke-linejoin="round" stroke-linecap="round" /><path d="M110.9 321.8 L121.8 315.9 L129.3 320.1 L118.4 326.5Z" fill="#c9c9ce" stroke="#222" stroke-width="0.4" stroke-linejoin="round" stroke-linecap="round" /><path d="M138.5 329.8 L145.2 328.5 L150.2 332.1 L143.5 336.8Z" fill="#fff" stroke="#222" stroke-width="0.3" stroke-linejoin="round" stroke-linecap="round" /><path d="M124.3 328.5 L133.5 330.1 L143.5 339.3 L131.8 337.1Z" fill="#d7ea52" stroke="#555" stroke-width="0.3" stroke-linejoin="round" stroke-linecap="round" /><path d="M142.6 341.8 L155.2 335.1 L166.0 341.0 L166.0 342.7 L153.5 349.8 L142.6 343.5Z" fill="#999" stroke="#222" stroke-width="0.3" stroke-linejoin="round" stroke-linecap="round" /><path d="M142.6 341.8 L155.2 335.1 L166.0 341.0 L153.5 348.2Z" fill="#c9c9ce" stroke="#222" stroke-width="0.4" stroke-linejoin="round" stroke-linecap="round" /><path d="M88.9 288.7 L91.4 301.4 A5 2.2 0 0 0 101.4 301.4 L103.9 288.7" fill="#fff" stroke="#222" stroke-width="0.4"/><polyline points="89.2,290.7 91.6,302.6" fill="none" stroke="#111" stroke-width="0.45" stroke-linejoin="round" stroke-linecap="round" /><polyline points="91,291 92.8,302.8" fill="none" stroke="#111" stroke-width="0.45" stroke-linejoin="round" stroke-linecap="round" /><polyline points="92.8,291.2 94,303" fill="none" stroke="#111" stroke-width="0.45" stroke-linejoin="round" stroke-linecap="round" /><polyline points="94.6,291.5 95.2,303.2" fill="none" stroke="#111" stroke-width="0.45" stroke-linejoin="round" stroke-linecap="round" /><polyline points="96.4,291.7 96.4,303.4" fill="none" stroke="#111" stroke-width="0.45" stroke-linejoin="round" stroke-linecap="round" /><polyline points="98.2,291.5 97.6,303.2" fill="none" stroke="#111" stroke-width="0.45" stroke-linejoin="round" stroke-linecap="round" /><polyline points="100,291.2 98.8,303" fill="none" stroke="#111" stroke-width="0.45" stroke-linejoin="round" stroke-linecap="round" /><polyline points="101.8,291 100,302.8" fill="none" stroke="#111" stroke-width="0.45" stroke-linejoin="round" stroke-linecap="round" /><polyline points="103.6,290.7 101.2,302.6" fill="none" stroke="#111" stroke-width="0.45" stroke-linejoin="round" stroke-linecap="round" /><path d="M89.4 291.3 A7.0 2.9 0 0 0 103.4 291.3" fill="none" stroke="#111" stroke-width="0.45"/><path d="M89.9 293.8 A6.5 2.7 0 0 0 102.9 293.8" fill="none" stroke="#111" stroke-width="0.45"/><path d="M90.4 296.3 A6.0 2.5 0 0 0 102.4 296.3" fill="none" stroke="#111" stroke-width="0.45"/><path d="M90.9 298.9 A5.5 2.3 0 0 0 101.9 298.9" fill="none" stroke="#111" stroke-width="0.45"/><ellipse cx="96.4" cy="288.7" rx="7.5" ry="3.3" fill="#fff" stroke="#222" stroke-width="0.5"/><polyline points="91,286.6 91.6,290.8" fill="none" stroke="#222" stroke-width="0.35" stroke-linejoin="round" stroke-linecap="round" /><polyline points="92.8,286.3 93.2,291.1" fill="none" stroke="#222" stroke-width="0.35" stroke-linejoin="round" stroke-linecap="round" /><polyline points="94.6,286 94.8,291.4" fill="none" stroke="#222" stroke-width="0.35" stroke-linejoin="round" stroke-linecap="round" /><polyline points="96.4,285.7 96.4,291.7" fill="none" stroke="#222" stroke-width="0.35" stroke-linejoin="round" stroke-linecap="round" /><polyline points="98.2,286 98,291.4" fill="none" stroke="#222" stroke-width="0.35" stroke-linejoin="round" stroke-linecap="round" /><polyline points="100,286.3 99.6,291.1" fill="none" stroke="#222" stroke-width="0.35" stroke-linejoin="round" stroke-linecap="round" /><polyline points="101.8,286.6 101.2,290.8" fill="none" stroke="#222" stroke-width="0.35" stroke-linejoin="round" stroke-linecap="round" />
<path d="M262.6 252.1Q262.5 250.7 263.8 251.3L270.3 254.7Q271.6 255.4 272.5 256.6L272.9 257.1Q273.9 258.3 273.7 259.7L271.8 273.9Q271.6 275.4 270.2 274.7L265 272.2Q263.6 271.6 263.5 270.1Z" fill="#c9c9ce" stroke="#222" stroke-width="0.5" stroke-linejoin="round" stroke-linecap="round" /><polyline points="264,274.8 270.1,277.3 270.8,281.6" fill="none" stroke="#222" stroke-width="0.7" stroke-linejoin="round" stroke-linecap="round" /><path d="M303.2 276.3Q303.1 274.8 304.5 275.5L313.6 280.3Q314.9 281.1 315.3 282.5L315.3 282.5Q315.7 283.9 315.4 285.4L313.3 298Q313 299.5 311.7 298.8L304.9 295.6Q303.5 294.9 303.5 293.4Z" fill="#c9c9ce" stroke="#222" stroke-width="0.5" stroke-linejoin="round" stroke-linecap="round" /><path d="M302.0 300.1 L311.5 302.0 L310.6 304.4 L302.0 302.9Z" fill="#c9c9ce" stroke="#222" stroke-width="0.4" stroke-linejoin="round" stroke-linecap="round" /><polyline points="311.1,302.9 315.7,315.8" fill="none" stroke="#222" stroke-width="0.8" stroke-linejoin="round" stroke-linecap="round" /><path d="M182.2 278.1C182.9 275.7 183.9 274.3 185.9 272.3C187.8 270.4 190.8 268.1 193.8 266.3C196.9 264.4 200.6 262.6 204.0 261.5C207.4 260.4 211.0 259.7 214.1 259.6C217.3 259.5 218.5 259.2 222.8 261.0C227.2 262.9 233.2 266.8 240.2 270.9C247.3 275.0 256.4 280.4 264.9 285.4C273.4 290.4 284.7 296.5 291.0 300.6C297.3 304.7 299.8 307.0 302.6 310.0C305.4 313.1 307.1 315.8 307.7 318.7C308.3 321.6 308.0 324.3 306.2 327.4C304.4 330.6 300.8 334.6 296.8 337.6C292.8 340.5 286.9 343.6 282.3 345.1C277.7 346.6 273.6 347.3 269.2 346.6C264.9 345.9 262.2 343.9 256.2 340.8C250.2 337.6 240.5 332.0 233.0 327.7C225.5 323.5 217.3 318.7 211.2 315.1C205.2 311.6 200.9 309.4 196.7 306.4C192.6 303.4 189.0 300.3 186.6 297.0C184.2 293.7 183.0 290.0 182.2 286.8C181.5 283.7 181.6 280.6 182.2 278.1Z" fill="#111" stroke="#111" stroke-width="0.4" stroke-linejoin="round" stroke-linecap="round" /><path d="M182.2 274.3C182.9 271.9 183.9 270.5 185.9 268.5C187.8 266.6 190.8 264.3 193.8 262.5C196.9 260.6 200.6 258.8 204.0 257.7C207.4 256.6 211.0 255.9 214.1 255.8C217.3 255.7 218.5 255.4 222.8 257.2C227.2 259.1 233.2 263.0 240.2 267.1C247.3 271.2 256.4 276.6 264.9 281.6C273.4 286.6 284.7 292.7 291.0 296.8C297.3 300.9 299.8 303.2 302.6 306.2C305.4 309.3 307.1 312.0 307.7 314.9C308.3 317.8 308.0 320.5 306.2 323.6C304.4 326.8 300.8 330.8 296.8 333.8C292.8 336.7 286.9 339.8 282.3 341.3C277.7 342.8 273.6 343.5 269.2 342.8C264.9 342.1 262.2 340.1 256.2 337.0C250.2 333.8 240.5 328.2 233.0 323.9C225.5 319.7 217.3 314.9 211.2 311.3C205.2 307.8 200.9 305.6 196.7 302.6C192.6 299.6 189.0 296.5 186.6 293.2C184.2 289.9 183.0 286.2 182.2 283.0C181.5 279.9 181.6 276.8 182.2 274.3Z" fill="#e4e4e7" stroke="#222" stroke-width="0.4" stroke-linejoin="round" stroke-linecap="round" /><path d="M182.2 272.5C182.9 270.1 183.9 268.7 185.9 266.7C187.8 264.8 190.8 262.5 193.8 260.7C196.9 258.8 200.6 257.0 204.0 255.9C207.4 254.8 211.0 254.1 214.1 254.0C217.3 253.9 218.5 253.6 222.8 255.4C227.2 257.3 233.2 261.2 240.2 265.3C247.3 269.4 256.4 274.8 264.9 279.8C273.4 284.8 284.7 290.9 291.0 295.0C297.3 299.1 299.8 301.4 302.6 304.4C305.4 307.5 307.1 310.2 307.7 313.1C308.3 316.0 308.0 318.7 306.2 321.8C304.4 325.0 300.8 329.0 296.8 332.0C292.8 334.9 286.9 338.0 282.3 339.5C277.7 341.0 273.6 341.7 269.2 341.0C264.9 340.3 262.2 338.3 256.2 335.2C250.2 332.0 240.5 326.4 233.0 322.1C225.5 317.9 217.3 313.1 211.2 309.5C205.2 306.0 200.9 303.8 196.7 300.8C192.6 297.8 189.0 294.7 186.6 291.4C184.2 288.1 183.0 284.4 182.2 281.2C181.5 278.1 181.6 275.0 182.2 272.5Z" fill="#fff" stroke="#222" stroke-width="0.5" stroke-linejoin="round" stroke-linecap="round" /><path d="M213.7 274.0 C229.8 282.0 231.7 295.3 248.8 303.9 S271.6 306.7 283.0 310.5" fill="none" stroke="#222" stroke-width="0.5" stroke-linejoin="round" stroke-linecap="round" /><path d="M194.7 268.3 L207.0 261.1 L217.5 267.2 L217.5 270.6 L205.1 278.2 L194.7 271.7Z" fill="#fff" stroke="#222" stroke-width="0.5" stroke-linejoin="round" stroke-linecap="round" /><polyline points="194.7,268.3 205.1,274.8 217.5,267.2" fill="none" stroke="#222" stroke-width="0.4" stroke-linejoin="round" stroke-linecap="round" /><polyline points="205.1,274.8 205.1,278.2" fill="none" stroke="#222" stroke-width="0.4" stroke-linejoin="round" stroke-linecap="round" /><circle cx="200.5" cy="263.6" r="0.8" fill="#111"/><polygon points="222.2,275.9 235.5,269.7 254.5,276.7 234.6,286.2" fill="#c8c8c8" stroke="none" stroke-width="0" stroke-linejoin="round" /><path d="M229.4 261.7 L244.6 271.2 L244.6 282.0 L229.4 272.5Z" fill="#c9c9ce" stroke="#222" stroke-width="0.5" stroke-linejoin="round" stroke-linecap="round" /><path d="M244.6 273.5 L254.5 276.3 L248.8 280.1 L244.6 281.6Z" fill="#333" stroke="#222" stroke-width="0.3" stroke-linejoin="round" stroke-linecap="round" /><path d="M195.6 295.7 L207.0 289.6 L217.5 293.8 L217.5 295.7 L206.1 302.5 L195.6 297.6Z" fill="#222" stroke="#222" stroke-width="0.3" stroke-linejoin="round" stroke-linecap="round" /><path d="M195.6 295.7 L207.0 289.6 L217.5 293.8 L206.1 300.6Z" fill="#c9c9ce" stroke="#222" stroke-width="0.4" stroke-linejoin="round" stroke-linecap="round" /><path d="M267.4 290.6 L273.5 287.3 L280.2 290.6 L280.2 292.5 L273.5 296.3 L267.4 292.8Z" fill="#888" stroke="#222" stroke-width="0.3" stroke-linejoin="round" stroke-linecap="round" /><path d="M267.4 290.6 L273.5 287.3 L280.2 290.6 L273.5 294.4Z" fill="#c9c9ce" stroke="#222" stroke-width="0.4" stroke-linejoin="round" stroke-linecap="round" /><path d="M274.5 295.3 L283.0 291.5 L287.8 294.9 L287.8 296.3 L281.1 300.4 L274.5 296.8Z" fill="#777" stroke="#222" stroke-width="0.3" stroke-linejoin="round" stroke-linecap="round" /><path d="M274.5 295.3 L283.0 291.5 L287.8 294.9 L281.1 299.1Z" fill="#d7ea52" stroke="#555" stroke-width="0.3" stroke-linejoin="round" stroke-linecap="round" /><path d="M246.9 325.7 L256.4 321.0 L270.1 328.6 L259.3 334.8Z" fill="#fff" stroke="#222" stroke-width="0.4" stroke-linejoin="round" stroke-linecap="round" /><path d="M250.7 325.3 L256.8 322.5 L266.3 328.0 L259.8 331.4Z" fill="#444" stroke="none" stroke-width="0" stroke-linejoin="round" stroke-linecap="round" /><path d="M259.3 309.6 L273.1 317.7 L268.8 330.6 L255.5 322.3Z" fill="#fff" stroke="#222" stroke-width="0.5" stroke-linejoin="round" stroke-linecap="round" /><path d="M281.1 320.0 L294.4 313.4 L301.6 316.6 L288.7 325.1Z" fill="#fff" stroke="#222" stroke-width="0.4" stroke-linejoin="round" stroke-linecap="round" /><path d="M284.0 319.6 L292.9 315.3 L298.2 317.7 L289.1 322.9Z" fill="#444" stroke="none" stroke-width="0" stroke-linejoin="round" stroke-linecap="round" /><path d="M285.3 302.5 L291.6 313.9 L281.5 320.0 L274.5 312.8Z" fill="#fff" stroke="#222" stroke-width="0.5" stroke-linejoin="round" stroke-linecap="round" /><path d="M248.8 249.7 L256.4 247.8 L262.1 253.5 L264.0 265.9 L265.9 273.5 L256.4 272.5 L248.8 267.8 L241.2 263.0 L245.0 255.4Z" fill="#fff" stroke="#222" stroke-width="0.5" stroke-linejoin="round" stroke-linecap="round" /><polyline points="251.7,253.5 248.8,264.9 253.6,270.6" fill="none" stroke="#222" stroke-width="0.35" stroke-linejoin="round" stroke-linecap="round" /><polyline points="259.3,253.5 261.2,268.7" fill="none" stroke="#222" stroke-width="0.35" stroke-linejoin="round" stroke-linecap="round" /><path d="M253.6 270.6 L264.0 275.4 L265.5 274.0 L256.4 269.7Z" fill="#d7ea52" stroke="none" stroke-width="0" stroke-linejoin="round" stroke-linecap="round" /><ellipse cx="253.6" cy="244.0" rx="3.2" ry="4.2" fill="#fff" stroke="#222" stroke-width="0.45"/><path d="M249.2 243.1 L250.3 238.7 L254.5 237.4 L258.7 239.8 L260.2 245.0 L264.0 248.8 L265.5 251.6 L262.1 250.7 L258.3 246.9 L256.4 242.1 L251.7 242.1 L250.7 245.9Z" fill="#111" stroke="#111" stroke-width="0.3" stroke-linejoin="round" stroke-linecap="round" /><path d="M291.6 273.5 L300.1 274.8 L303.0 282.0 L303.5 298.2 L298.2 299.5 L289.7 294.4 L286.8 290.6 L280.2 288.7 L281.1 286.2 L288.7 282.0Z" fill="#d7ea52" stroke="#222" stroke-width="0.5" stroke-linejoin="round" stroke-linecap="round" /><polyline points="294.4,278.2 292.5,287.7 288.7,291.5" fill="none" stroke="#222" stroke-width="0.35" stroke-linejoin="round" stroke-linecap="round" /><ellipse cx="294.4" cy="268.3" rx="3.2" ry="4.2" fill="#fff" stroke="#222" stroke-width="0.45"/><path d="M290.6 265.9 L292.9 262.1 L298.2 261.5 L302.0 264.9 L304.3 269.7 L303.0 276.3 L302.0 282.0 L300.1 274.8 L297.8 270.6 L296.3 265.3 L292.1 267.2Z" fill="#111" stroke="#111" stroke-width="0.3" stroke-linejoin="round" stroke-linecap="round" /><polyline points="174.7,320 170,339" fill="none" stroke="#222" stroke-width="1.2" stroke-linejoin="round" stroke-linecap="round" /><polyline points="190.3,328.6 186.1,347.6" fill="none" stroke="#222" stroke-width="1.2" stroke-linejoin="round" stroke-linecap="round" /><polyline points="205.1,323.8 209.3,334.8" fill="none" stroke="#222" stroke-width="1.1" stroke-linejoin="round" stroke-linecap="round" /><path d="M173.6 315.1 L185.5 321.1 L200.4 315.8 L207.0 318.1 L212.7 325.7 L208.9 328.6 L201.3 323.8 L187.1 328.4 L172.8 320.0Z" fill="#111" stroke="#111" stroke-width="0.3" stroke-linejoin="round" stroke-linecap="round" /><path d="M190.9 314.3 L205.1 307.7 L212.7 323.8 L215.6 326.7 L210.8 328.6 L205.1 321.9 L195.6 323.8Z" fill="#111" stroke="#111" stroke-width="0.3" stroke-linejoin="round" stroke-linecap="round" /><path d="M211.8 323.8 L218.4 322.9 L221.3 326.7 L215.6 329.5Z" fill="#fff" stroke="#222" stroke-width="0.3" stroke-linejoin="round" stroke-linecap="round" /><path d="M174.3 288.7 L181.4 285.8 L189.0 291.5 L194.7 301.0 L207.0 305.8 L209.3 308.6 L197.5 309.6 L192.8 314.3 L186.1 316.2 L178.5 308.6Z" fill="#b9b9be" stroke="#222" stroke-width="0.5" stroke-linejoin="round" stroke-linecap="round" /><polyline points="183.3,293.4 188,304.8 197.5,308.6" fill="none" stroke="#222" stroke-width="0.35" stroke-linejoin="round" stroke-linecap="round" /><path d="M168.3 299.6Q168.1 298.2 169.3 297.3L169.7 297.1Q170.9 296.3 172.2 297L183.9 304Q185.2 304.8 185.2 306.3L186 318.5Q186.1 320 185.2 321L185.2 321Q184.2 321.9 182.9 321.2L172.2 315Q170.9 314.3 170.6 312.8Z" fill="#c9c9ce" stroke="#222" stroke-width="0.5" stroke-linejoin="round" stroke-linecap="round" /><ellipse cx="185.2" cy="281.6" rx="3.0" ry="4.0" fill="#fff" stroke="#222" stroke-width="0.45"/><path d="M178.9 281.1 L179.5 276.7 L184.2 274.8 L189.9 276.3 L189.0 279.2 L185.2 278.2 L183.3 282.0 L181.4 285.4Z" fill="#111" stroke="#111" stroke-width="0.3" stroke-linejoin="round" stroke-linecap="round" /><polyline points="220.7,350.4 216.9,368.5" fill="none" stroke="#222" stroke-width="1.2" stroke-linejoin="round" stroke-linecap="round" /><polyline points="236.5,358 233.6,373" fill="none" stroke="#222" stroke-width="1.2" stroke-linejoin="round" stroke-linecap="round" /><polyline points="252.6,348.5 256.4,364.7" fill="none" stroke="#222" stroke-width="1.1" stroke-linejoin="round" stroke-linecap="round" /><path d="M219.4 345.5 L232.8 350.8 L249.0 345.5 L253.6 350.4 L235.5 359.1 L219.4 352.3Z" fill="#111" stroke="#111" stroke-width="0.3" stroke-linejoin="round" stroke-linecap="round" /><path d="M229.8 319.1 L236.5 318.1 L239.3 327.6 L248.8 335.2 L253.6 350.4 L248.8 348.5 L241.2 346.6 L233.6 346.6 L227.0 331.4Z" fill="#d7ea52" stroke="#222" stroke-width="0.5" stroke-linejoin="round" stroke-linecap="round" /><path d="M234.6 320.0 L239.3 318.1 L241.2 311.5 L243.1 312.4 L242.2 320.0 L238.4 327.6Z" fill="#fff" stroke="#222" stroke-width="0.35" stroke-linejoin="round" stroke-linecap="round" /><path d="M243.1 354.2 L250.7 352.3 L253.6 357.1 L246.9 359.0Z" fill="#fff" stroke="#222" stroke-width="0.3" stroke-linejoin="round" stroke-linecap="round" /><path d="M215.8 330Q215.6 328.6 216.9 328L217.4 327.8Q218.8 327.2 220.1 328L231.9 335.4Q233.2 336.2 233.3 337.7L233.9 350.8Q234 352.3 232.8 353.3L232.8 353.3Q231.7 354.2 230.4 353.4L220.1 347.4Q218.8 346.6 218.5 345.1Z" fill="#c9c9ce" stroke="#222" stroke-width="0.5" stroke-linejoin="round" stroke-linecap="round" /><ellipse cx="232.1" cy="313.9" rx="3.0" ry="4.0" fill="#fff" stroke="#222" stroke-width="0.45"/><path d="M225.1 310.5 L227.9 306.3 L233.2 305.8 L235.9 309.6 L233.6 312.0 L230.8 314.3 L229.8 320.0 L226.0 325.7 L223.2 320.0Z" fill="#111" stroke="#111" stroke-width="0.3" stroke-linejoin="round" stroke-linecap="round" /><polyline points="287.2,342.8 283,356.1" fill="none" stroke="#222" stroke-width="1.2" stroke-linejoin="round" stroke-linecap="round" /><polyline points="300.1,350.4 303,369.4" fill="none" stroke="#222" stroke-width="1.2" stroke-linejoin="round" stroke-linecap="round" /><polyline points="317.2,346.6 319.1,360.3" fill="none" stroke="#222" stroke-width="1.1" stroke-linejoin="round" stroke-linecap="round" /><path d="M286.8 340.0 L303.9 332.4 L307.7 339.0 L309.6 346.6 L300.1 350.8 L287.8 343.8Z" fill="#111" stroke="#111" stroke-width="0.3" stroke-linejoin="round" stroke-linecap="round" /><path d="M306.1 330.1Q306.2 328.6 307.5 327.9L318.7 322.2Q320.1 321.5 321.1 322.6L321.1 322.7Q322.1 323.8 322 325.3L320.2 339.4Q320.1 340.9 318.8 341.7L309 347.7Q307.7 348.5 306.6 347.6L306.6 347.6Q305.4 346.6 305.5 345.1Z" fill="#c9c9ce" stroke="#222" stroke-width="0.5" stroke-linejoin="round" stroke-linecap="round" />
<path d="M348.2 284.8 L393.3 310.8 L393.3 335.6 L348.2 309.7Z" fill="#fff" stroke="#222" stroke-width="0.5" stroke-linejoin="round" stroke-linecap="round" /><path d="M393.3 310.8 L405.1 304.5 L405.1 329.3 L393.3 335.6Z" fill="#fff" stroke="#222" stroke-width="0.5" stroke-linejoin="round" stroke-linecap="round" /><path d="M348.2 284.8 L359.4 277.9 L405.1 304.5 L393.3 310.8Z" fill="#fff" stroke="#222" stroke-width="0.5" stroke-linejoin="round" stroke-linecap="round" /><polyline points="357.1,290.6 357.1,314.7" fill="none" stroke="#222" stroke-width="0.4" stroke-linejoin="round" stroke-linecap="round" /><polyline points="368.7,297.3 368.7,321.4" fill="none" stroke="#222" stroke-width="0.4" stroke-linejoin="round" stroke-linecap="round" /><polyline points="369.8,297.9 369.8,322" fill="none" stroke="#222" stroke-width="0.4" stroke-linejoin="round" stroke-linecap="round" /><polyline points="380.8,304.2 380.8,328.4" fill="none" stroke="#222" stroke-width="0.4" stroke-linejoin="round" stroke-linecap="round" /><polyline points="357.1,297.5 368.7,304.1" fill="none" stroke="#222" stroke-width="0.4" stroke-linejoin="round" stroke-linecap="round" /><polyline points="369.8,306.2 393.3,319.5" fill="none" stroke="#222" stroke-width="0.4" stroke-linejoin="round" stroke-linecap="round" /><path d="M369.8 298.7 L375.3 301.8 L372.7 304.5 L369.8 303.3Z" fill="#111" stroke="#111" stroke-width="0.2" stroke-linejoin="round" stroke-linecap="round" /><polyline points="358.1,305.3 358.1,308.3" fill="none" stroke="#222" stroke-width="0.8" stroke-linejoin="round" stroke-linecap="round" /><polyline points="379.9,317.7 379.9,321.2" fill="none" stroke="#222" stroke-width="0.8" stroke-linejoin="round" stroke-linecap="round" /><polyline points="381.7,318.9 381.7,322.4" fill="none" stroke="#222" stroke-width="0.8" stroke-linejoin="round" stroke-linecap="round" /><path d="M361.8 287.5 L365.8 284.8 L374.8 289.8 L370.2 293.3Z" fill="#fff" stroke="#222" stroke-width="0.4" stroke-linejoin="round" stroke-linecap="round" /><path d="M364.6 289.4 L368.1 287.7 L372.1 290.3 L369.3 292.3Z" fill="#111" stroke="#111" stroke-width="0.2" stroke-linejoin="round" stroke-linecap="round" /><path d="M367.2 290.3 L370.6 288.3 L374.1 290.3 L370.4 292.6Z" fill="#d7ea52" stroke="#555" stroke-width="0.3" stroke-linejoin="round" stroke-linecap="round" /><path d="M379.1 288.9 L394.7 298.1 L402.2 294.1 L402.2 305.3 L395.2 309.1 L379.1 299.8Z" fill="#111" stroke="#111" stroke-width="0.3" stroke-linejoin="round" stroke-linecap="round" /><path d="M381.4 294.6 L392.9 301.3 L392.9 304.5 L381.4 297.9Z" fill="#d7ea52" stroke="none" stroke-width="0" stroke-linejoin="round" stroke-linecap="round" /><path d="M383.3 294.4 L385.4 295.6 L385.4 298.3 L383.3 297.2Z" fill="#fff" stroke="#222" stroke-width="0.3" stroke-linejoin="round" stroke-linecap="round" /><path d="M387.7 297.2 L389.5 298.1 L389.5 300.4 L387.7 299.5Z" fill="#111" stroke="none" stroke-width="0" stroke-linejoin="round" stroke-linecap="round" /><path d="M378.5 284.2 L387.7 279.1 L403.9 288.9 L403.9 292.9 L394.1 298.7 L378.5 289.4Z" fill="#fff" stroke="#222" stroke-width="0.5" stroke-linejoin="round" stroke-linecap="round" /><polyline points="378.5,284.2 394.1,294.1 403.9,288.9" fill="none" stroke="#222" stroke-width="0.4" stroke-linejoin="round" stroke-linecap="round" /><polyline points="394.1,294.1 394.1,298.7" fill="none" stroke="#222" stroke-width="0.4" stroke-linejoin="round" stroke-linecap="round" /><path d="M379.7 286.3 L393.3 294.6 L393.3 297.5 L379.7 289.1Z" fill="#d7ea52" stroke="#555" stroke-width="0.3" stroke-linejoin="round" stroke-linecap="round" />
<path d="M539.1 344.7Q534.8 342.2 539.1 339.7L710.7 240.7Q715 238.2 719.4 240.7L918.4 355.6Q922.7 358.1 918.4 360.6L746.8 459.6Q742.5 462.1 738.1 459.6Z" fill="#c6c6cb" stroke="#666" stroke-width="0.5" stroke-linejoin="round" stroke-linecap="round" /><path d="M539.1 341.1Q534.8 338.6 539.1 336.1L710.7 237.1Q715 234.6 719.4 237.1L918.4 351.9Q922.7 354.4 918.4 356.9L746.8 456Q742.5 458.5 738.1 456Z" fill="#fff" stroke="#444" stroke-width="0.55" stroke-linejoin="round" stroke-linecap="round" />
<path d="M828.3 168.6 L915.5 214.0 L915.5 329.4 L828.3 286.2Z" fill="#fff" stroke="#222" stroke-width="0.5" stroke-linejoin="round" stroke-linecap="round" /><path d="M915.5 214.0 L917.6 212.6 L917.6 327.8 L915.5 329.4Z" fill="#eee" stroke="#222" stroke-width="0.3" stroke-linejoin="round" stroke-linecap="round" /><path d="M833.7 178.9 L909.3 218.0 L909.3 323.2 L833.7 282.7Z" fill="#8e8e94" stroke="#444" stroke-width="0.3" stroke-linejoin="round" stroke-linecap="round" /><path d="M833.7 178.9 L909.3 218.0 L909.3 226.1 L833.7 187.0Z" fill="#b4b4ba" stroke="none" stroke-width="0" stroke-linejoin="round" stroke-linecap="round" /><path d="M901.2 222.6 L909.3 226.6 L909.3 323.2 L901.2 319.2Z" fill="#85858b" stroke="none" stroke-width="0" stroke-linejoin="round" stroke-linecap="round" /><path d="M834.5 188.3 L839.4 190.8 L839.4 291.9 L834.5 289.5Z" fill="#d7ea52" stroke="#98a838" stroke-width="0.3" stroke-linejoin="round" stroke-linecap="round" /><path d="M840.5 191.8 L845.3 194.0 L845.3 295.4 L840.5 293.0Z" fill="#d7ea52" stroke="#98a838" stroke-width="0.3" stroke-linejoin="round" stroke-linecap="round" /><path d="M846.7 195.1 L851.5 197.5 L851.5 298.9 L846.7 296.5Z" fill="#d7ea52" stroke="#98a838" stroke-width="0.3" stroke-linejoin="round" stroke-linecap="round" /><path d="M852.6 198.3 L857.5 201.0 L857.5 302.7 L852.6 300.3Z" fill="#d7ea52" stroke="#98a838" stroke-width="0.3" stroke-linejoin="round" stroke-linecap="round" /><path d="M858.8 201.8 L863.7 204.2 L863.7 306.2 L858.8 303.8Z" fill="#d7ea52" stroke="#98a838" stroke-width="0.3" stroke-linejoin="round" stroke-linecap="round" /><path d="M864.7 205.3 L869.6 207.5 L869.6 309.7 L864.7 307.3Z" fill="#d7ea52" stroke="#98a838" stroke-width="0.3" stroke-linejoin="round" stroke-linecap="round" /><path d="M870.7 208.6 L875.5 211.0 L875.5 313.2 L870.7 310.8Z" fill="#d7ea52" stroke="#98a838" stroke-width="0.3" stroke-linejoin="round" stroke-linecap="round" /><path d="M876.9 211.8 L881.7 214.5 L881.7 316.7 L876.9 314.3Z" fill="#d7ea52" stroke="#98a838" stroke-width="0.3" stroke-linejoin="round" stroke-linecap="round" /><path d="M882.8 215.3 L887.7 217.7 L887.7 320.5 L882.8 318.1Z" fill="#d7ea52" stroke="#98a838" stroke-width="0.3" stroke-linejoin="round" stroke-linecap="round" /><path d="M889.0 218.8 L893.9 221.0 L893.9 324.0 L889.0 321.6Z" fill="#d7ea52" stroke="#98a838" stroke-width="0.3" stroke-linejoin="round" stroke-linecap="round" /><path d="M895.0 222.0 L899.8 224.5 L899.8 327.5 L895.0 325.1Z" fill="#d7ea52" stroke="#98a838" stroke-width="0.3" stroke-linejoin="round" stroke-linecap="round" />
<path d="M730.4 174.8 L757.5 190.4 L755.0 222.7 L728.7 207.7Z" fill="#c9c9ce" stroke="#222" stroke-width="0.4" stroke-linejoin="round" stroke-linecap="round" /><path d="M757.5 190.4 L763.3 187.1 L763.3 218.5 L755.0 222.7Z" fill="#c9c9ce" stroke="#222" stroke-width="0.5" stroke-linejoin="round" stroke-linecap="round" /><path d="M730.4 174.8 L736.5 171.3 L763.3 187.1 L757.5 190.4Z" fill="#fff" stroke="#222" stroke-width="0.5" stroke-linejoin="round" stroke-linecap="round" /><path d="M732.0 190.8 L738.2 187.7 L756.7 199.0 L756.3 204.2 L729.6 194.9Z" fill="#fff" stroke="#222" stroke-width="0.4" stroke-linejoin="round" stroke-linecap="round" /><path d="M730.4 207.2 L736.5 204.2 L755.4 215.5 L755.0 221.6 L728.7 207.7Z" fill="#fff" stroke="#222" stroke-width="0.4" stroke-linejoin="round" stroke-linecap="round" /><path d="M734.1 191.2 L740.7 188.8 L747.2 192.9 L740.0 197.0Z" fill="#d7ea52" stroke="#666" stroke-width="0.3" stroke-linejoin="round" stroke-linecap="round" /><path d="M740.7 210.3 L747.8 207.7 L754.2 211.8 L746.8 215.9Z" fill="#d7ea52" stroke="#666" stroke-width="0.3" stroke-linejoin="round" stroke-linecap="round" /><polyline points="730.4,174.8 728.7,207.7 755,222.7 757.5,190.4 730.4,174.8" fill="none" stroke="#111" stroke-width="1.1" stroke-linejoin="round" stroke-linecap="round" /><polyline points="729.6,192.9 756.3,204.8" fill="none" stroke="#111" stroke-width="0.9" stroke-linejoin="round" stroke-linecap="round" /><path d="M664.2 264.4 L667.7 266.0 L667.7 296.0 L664.2 294.6Z" fill="#ddd" stroke="#222" stroke-width="0.4" stroke-linejoin="round" stroke-linecap="round" /><path d="M673.9 262.7 L687.2 269.9 L687.2 290.4 L673.9 283.3Z" fill="#c9c9ce" stroke="#222" stroke-width="0.4" stroke-linejoin="round" stroke-linecap="round" /><path d="M687.2 256.5 L720.1 237.6 L720.1 272.0 L687.2 290.4Z" fill="#fff" stroke="#222" stroke-width="0.5" stroke-linejoin="round" stroke-linecap="round" /><polyline points="703.7,247.3 703.7,281.2" fill="none" stroke="#222" stroke-width="0.4" stroke-linejoin="round" stroke-linecap="round" /><polyline points="700,262.7 700,268.9" fill="none" stroke="#222" stroke-width="0.9" stroke-linejoin="round" stroke-linecap="round" /><polyline points="706.1,259.6 706.1,265.8" fill="none" stroke="#222" stroke-width="0.9" stroke-linejoin="round" stroke-linecap="round" /><path d="M720.1 237.6 L769.8 265.2 L769.8 298.0 L720.1 272.0Z" fill="#fff" stroke="#222" stroke-width="0.5" stroke-linejoin="round" stroke-linecap="round" /><polyline points="732.9,243.2 732.9,278.7" fill="none" stroke="#111" stroke-width="1.1" stroke-linejoin="round" stroke-linecap="round" /><polyline points="749.5,253.5 749.5,287" fill="none" stroke="#222" stroke-width="0.5" stroke-linejoin="round" stroke-linecap="round" /><polyline points="728.7,256.5 728.7,263.7" fill="none" stroke="#222" stroke-width="0.9" stroke-linejoin="round" stroke-linecap="round" /><polyline points="752.6,270.9 752.6,277.5" fill="none" stroke="#222" stroke-width="0.9" stroke-linejoin="round" stroke-linecap="round" /><polyline points="737.6,255.5 743.3,258.6" fill="none" stroke="#111" stroke-width="0.9" stroke-linejoin="round" stroke-linecap="round" /><polyline points="737.6,264.8 743.3,267.8" fill="none" stroke="#111" stroke-width="0.9" stroke-linejoin="round" stroke-linecap="round" /><polyline points="737.6,273.6 743.3,276.7" fill="none" stroke="#111" stroke-width="0.9" stroke-linejoin="round" stroke-linecap="round" /><path d="M656.0 258.6 L667.7 265.2 L720.1 235.0 L733.5 242.6 L757.1 256.1 L769.8 262.7 L769.8 265.2 L757.1 258.6 L733.5 245.0 L720.1 237.6 L667.7 267.6 L656.0 261.1Z" fill="#eee" stroke="#222" stroke-width="0.4" stroke-linejoin="round" stroke-linecap="round" /><path d="M656.0 258.6 L720.1 220.6 L743.7 234.4 L732.9 242.2 L720.1 235.0 L667.7 265.2Z" fill="#b7b7bd" stroke="#222" stroke-width="0.5" stroke-linejoin="round" stroke-linecap="round" /><path d="M732.9 242.2 L743.7 234.4 L771.5 250.0 L771.5 262.7 L758.1 256.5Z" fill="#b7b7bd" stroke="#222" stroke-width="0.5" stroke-linejoin="round" stroke-linecap="round" /><path d="M755.0 252.9 L763.3 248.7 L771.5 252.9 L771.5 262.3 L758.1 256.1Z" fill="#e8e8ea" stroke="#222" stroke-width="0.35" stroke-linejoin="round" stroke-linecap="round" /><polyline points="758.7,254.9 771.5,261.1" fill="none" stroke="#222" stroke-width="0.3" stroke-linejoin="round" stroke-linecap="round" /><polyline points="757.1,253.5 765.3,249.6" fill="none" stroke="#222" stroke-width="0.3" stroke-linejoin="round" stroke-linecap="round" /><polyline points="761.2,256.1 761.2,258.2" fill="none" stroke="#222" stroke-width="0.3" stroke-linejoin="round" stroke-linecap="round" /><polyline points="764.3,257.8 764.3,259.8" fill="none" stroke="#222" stroke-width="0.3" stroke-linejoin="round" stroke-linecap="round" /><polyline points="767.4,259.2 767.4,261.3" fill="none" stroke="#222" stroke-width="0.3" stroke-linejoin="round" stroke-linecap="round" /><polyline points="656,258.8 667.7,265.4" fill="none" stroke="#111" stroke-width="1.0" stroke-linejoin="round" stroke-linecap="round" /><path d="M797.1 225.7Q797.1 223.7 798.8 222.5L810.9 214.1Q812.6 213 812.6 215L812.6 304.3Q812.6 306.3 810.9 307.4L798.8 315.4Q797.1 316.5 797.1 314.5Z" fill="#fff" stroke="#222" stroke-width="0.5" stroke-linejoin="round" stroke-linecap="round" /><path d="M769.4 213.9Q769.4 211.4 771.7 212.4L794.9 222.7Q797.1 223.7 797.1 226.2L797.1 314Q797.1 316.5 794.9 315.4L771.6 302.9Q769.4 301.7 769.4 299.2Z" fill="#fff" stroke="#222" stroke-width="0.5" stroke-linejoin="round" stroke-linecap="round" /><path d="M772.2 212.6Q769.4 211.4 772.1 210L788.3 201.4Q791 200.1 793.6 201.6L810 211.5Q812.6 213 810.1 214.7L799.6 222Q797.1 223.7 794.4 222.5Z" fill="#fff" stroke="#222" stroke-width="0.5" stroke-linejoin="round" stroke-linecap="round" /><polyline points="769.4,241.8 797.1,254.9" fill="none" stroke="#222" stroke-width="0.5" stroke-linejoin="round" stroke-linecap="round" /><polyline points="769.4,243.4 797.1,256.5" fill="none" stroke="#222" stroke-width="0.5" stroke-linejoin="round" stroke-linecap="round" /><polyline points="791.6,238.1 790.4,246.3" fill="none" stroke="#222" stroke-width="0.6" stroke-linejoin="round" stroke-linecap="round" /><polyline points="790.4,264.8 789.1,277.5" fill="none" stroke="#222" stroke-width="0.6" stroke-linejoin="round" stroke-linecap="round" /><path d="M 771.5 213.8 L 793.0 223.7 Q 796.1 225.3 796.1 229.8 L 796.1 253.5" fill="none" stroke="#222" stroke-width="0.35" stroke-linejoin="round" stroke-linecap="round" />
<path d="M621.9 271.2 L632.5 277.5 L632.5 292.4 L621.9 286.7Z" fill="#c9c9ce" stroke="#222" stroke-width="0.4" stroke-linejoin="round" stroke-linecap="round" /><path d="M 559.1 308.6 Q 559.8 316.4 581.7 317.5 L 636.8 287.0 Q 648.8 281.8 648.8 276.1 L 648.8 311.4 Q 647.4 315.7 638.2 320.2 L 592.3 346.0 Q 577.5 352.4 564.1 341.8 Q 559.1 338.9 559.1 335.4 Z" fill="#c9c9ce" stroke="#222" stroke-width="0.5" stroke-linejoin="round" stroke-linecap="round" /><path d="M 567.6 301.1 Q 559.1 303.6 559.1 308.6 Q 559.8 316.4 581.7 317.5 L 636.8 287.0 Q 648.8 281.8 648.8 276.1 Q 647.4 267.6 632.5 266.2 Q 623.4 266.2 621.9 271.2 L 632.5 277.5 L 632.5 280.8 L 583.8 308.6 L 575.4 304.1 Q 571.8 301.1 567.6 301.1 Z" fill="#fff" stroke="#222" stroke-width="0.5" stroke-linejoin="round" stroke-linecap="round" /><path d="M595.8 290.2 L619.8 280.4 L619.8 298.7 L602.9 307.9 L595.8 303.6Z" fill="#111" stroke="#111" stroke-width="0.3" stroke-linejoin="round" stroke-linecap="round" /><path d="M601.2 295.5 L615.6 289.5 L615.6 296.6 L602.2 302.5Z" fill="#d7ea52" stroke="none" stroke-width="0" stroke-linejoin="round" stroke-linecap="round" /><path d="M612.5 292.4 L615.6 291.2 L615.6 296.6 L612.5 297.7Z" fill="#fff" stroke="#222" stroke-width="0.3" stroke-linejoin="round" stroke-linecap="round" /><ellipse cx="621.2" cy="291.6" rx="1.4" ry="2" fill="#fff" stroke="#222" stroke-width="0.3"/><path d="M593.7 284.6 L609.9 275.1 L621.9 280.8 L621.9 284.6 L605.0 294.9 L593.7 289.5Z" fill="#fff" stroke="#222" stroke-width="0.5" stroke-linejoin="round" stroke-linecap="round" /><polyline points="593.7,284.6 605,290.9 621.9,280.8" fill="none" stroke="#222" stroke-width="0.4" stroke-linejoin="round" stroke-linecap="round" /><polyline points="605,290.9 605,294.9" fill="none" stroke="#222" stroke-width="0.4" stroke-linejoin="round" stroke-linecap="round" /><path d="M606.0 290.7 L619.8 282.8 L619.8 287.0 L606.0 294.0Z" fill="#d7ea52" stroke="#666" stroke-width="0.3" stroke-linejoin="round" stroke-linecap="round" />
<path d="M816.7 300.3 L827.0 307.0 L827.0 336.7 L816.7 329.9Z" fill="#c9c9ce" stroke="#222" stroke-width="0.4" stroke-linejoin="round" stroke-linecap="round" /><path d="M 827.0 307.0 L 864.7 328.6 Q 875.5 332.6 880.4 321.9 L 880.4 352.9 Q 876.9 362.3 864.7 359.1 L 827.0 336.7 Z" fill="#fff" stroke="#222" stroke-width="0.5" stroke-linejoin="round" stroke-linecap="round" /><path d="M 816.7 300.3 L 830.2 291.6 L 875.5 315.9 Q 880.9 319.2 880.4 323.2 Q 875.5 332.6 864.7 328.6 L 827.0 307.0 Z" fill="#fff" stroke="#222" stroke-width="0.5" stroke-linejoin="round" stroke-linecap="round" /><polyline points="841.8,315.9 841.8,345.6" fill="none" stroke="#222" stroke-width="0.4" stroke-linejoin="round" stroke-linecap="round" /><polyline points="854,322.7 854,352.9" fill="none" stroke="#222" stroke-width="0.4" stroke-linejoin="round" stroke-linecap="round" /><polyline points="864.7,328.6 864.7,359.1" fill="none" stroke="#222" stroke-width="0.4" stroke-linejoin="round" stroke-linecap="round" /><polyline points="827,315.9 841.8,324" fill="none" stroke="#222" stroke-width="0.4" stroke-linejoin="round" stroke-linecap="round" /><polyline points="841.8,324 864.7,336.7" fill="none" stroke="#222" stroke-width="0.4" stroke-linejoin="round" stroke-linecap="round" /><path d="M842.6 317.0 L849.1 320.2 L844.8 324.0Z" fill="#111" stroke="#111" stroke-width="0.2" stroke-linejoin="round" stroke-linecap="round" /><polyline points="829.1,324.6 829.1,329.9" fill="none" stroke="#222" stroke-width="0.7" stroke-linejoin="round" stroke-linecap="round" /><polyline points="851.8,335.3 851.8,340.7" fill="none" stroke="#222" stroke-width="0.7" stroke-linejoin="round" stroke-linecap="round" /><polyline points="855.8,337.5 855.8,342.9" fill="none" stroke="#222" stroke-width="0.7" stroke-linejoin="round" stroke-linecap="round" /><path d="M830.5 302.7Q829.7 302.2 830.5 301.7L836.9 298.1Q837.8 297.6 838.6 298.1L843.9 301.1Q844.8 301.6 843.9 302.2L837.5 306.5Q836.7 307 835.9 306.4Z" fill="#fff" stroke="#222" stroke-width="0.4" stroke-linejoin="round" stroke-linecap="round" />
<polyline points="680.4,315.1 683.9,320.4" fill="none" stroke="#222" stroke-width="0.7" stroke-linejoin="round" stroke-linecap="round" /><path d="M674.2 325.2Q673.1 324.7 674.1 324L685.2 317.3Q686.2 316.7 687.3 317.1L692.5 319.3Q693.6 319.7 692.6 320.4L681.4 327.4Q680.4 328.1 679.3 327.5Z" fill="#c9c9ce" stroke="#222" stroke-width="0.4" stroke-linejoin="round" stroke-linecap="round" /><path d="M666.4 308.1Q665.9 306.2 667.6 305.2L678.6 299.1Q680.4 298.2 680.7 300.1L683.1 312.7Q683.4 314.7 681.6 315.4L671.4 319.6Q669.6 320.4 669.1 318.4Z" fill="#c9c9ce" stroke="#222" stroke-width="0.6" stroke-linejoin="round" stroke-linecap="round" /><path d="M746.5 307.4Q746.6 305.4 748.3 306.4L758.1 312.1Q759.8 313.1 759.6 315.1L758 329.1Q757.8 331.1 756.1 330.2L748 325.9Q746.3 325 746.3 323Z" fill="#c9c9ce" stroke="#222" stroke-width="0.5" stroke-linejoin="round" stroke-linecap="round" /><path d="M742.9 330.1 L754.0 333.1 L753.2 335.4 L742.4 332.4Z" fill="#c9c9ce" stroke="#222" stroke-width="0.4" stroke-linejoin="round" stroke-linecap="round" /><polyline points="754.7,333.1 759.4,346.5" fill="none" stroke="#222" stroke-width="0.8" stroke-linejoin="round" stroke-linecap="round" /><polyline points="708.8,352.4 708.8,377.3" fill="none" stroke="#111" stroke-width="1.4" stroke-linejoin="round" stroke-linecap="round" /><ellipse cx="709.3" cy="336.7" rx="33.1" ry="18.2" fill="#ddd" stroke="#222" stroke-width="0.5"/><ellipse cx="709.3" cy="335.4" rx="33.1" ry="18.2" fill="#fff" stroke="#222" stroke-width="0.5"/><path d="M733.9 304.6 L740.9 305.4 L746.3 310.8 L747.0 326.2 L744.7 329.6 L738.6 326.2 L732.4 321.6 L723.9 319.3 L724.4 317.0 L730.9 313.1Z" fill="#d7ea52" stroke="#222" stroke-width="0.5" stroke-linejoin="round" stroke-linecap="round" /><polyline points="736.7,308.5 735.2,318.5 732.4,321.3" fill="none" stroke="#222" stroke-width="0.35" stroke-linejoin="round" stroke-linecap="round" /><path d="M741.6 329.6 L746.3 327.7 L746.3 331.6 L742.9 333.1Z" fill="#111" stroke="none" stroke-width="0" stroke-linejoin="round" stroke-linecap="round" /><ellipse cx="737.3" cy="299.7" rx="2.8" ry="3.8" fill="#fff" stroke="#222" stroke-width="0.45"/><path d="M734.7 296.2 L737.8 293.1 L742.4 293.6 L744.7 296.9 L747.8 296.2 L748.6 299.3 L746.3 300.8 L747.0 310.8 L744.7 308.5 L742.4 303.1 L740.9 297.7 L738.6 295.4 L735.8 298.2Z" fill="#111" stroke="#111" stroke-width="0.3" stroke-linejoin="round" stroke-linecap="round" /><polyline points="661.6,363.2 658.8,381.3" fill="none" stroke="#333" stroke-width="1.2" stroke-linejoin="round" stroke-linecap="round" /><polyline points="677,370.9 674.2,389.7" fill="none" stroke="#333" stroke-width="1.2" stroke-linejoin="round" stroke-linecap="round" /><polyline points="692.4,370.1 695.1,377.3" fill="none" stroke="#333" stroke-width="1.1" stroke-linejoin="round" stroke-linecap="round" /><path d="M661.6 360.1 L673.1 366.2 L689.3 361.6 L690.8 364.7 L674.7 371.6 L660.8 363.9Z" fill="#c9c9ce" stroke="#222" stroke-width="0.4" stroke-linejoin="round" stroke-linecap="round" /><path d="M674.7 352.4 L686.2 351.6 L693.1 358.5 L700.8 369.3 L697.8 371.6 L689.3 365.5 L677.7 363.9 L673.1 361.6Z" fill="#111" stroke="#111" stroke-width="0.3" stroke-linejoin="round" stroke-linecap="round" /><path d="M698.5 367.8 L705.5 366.6 L707.5 369.3 L700.8 374.3 L697.8 372.1Z" fill="#fff" stroke="#222" stroke-width="0.35" stroke-linejoin="round" stroke-linecap="round" /><path d="M662.8 333.1 L670.8 331.6 L676.2 337.0 L684.7 343.1 L693.1 340.8 L699.3 339.3 L698.5 343.1 L693.1 344.7 L687.7 349.3 L678.5 352.4 L674.7 360.1 L667.7 357.0 L663.1 344.7Z" fill="#b9b9be" stroke="#222" stroke-width="0.5" stroke-linejoin="round" stroke-linecap="round" /><polyline points="671.6,338.5 677.7,346.2 686.2,348.5" fill="none" stroke="#222" stroke-width="0.35" stroke-linejoin="round" stroke-linecap="round" /><path d="M692.4 340.8 L698.2 338.5 L699.8 340.8 L697.8 343.9 L693.1 344.4Z" fill="#fff" stroke="#222" stroke-width="0.35" stroke-linejoin="round" stroke-linecap="round" /><path d="M656.7 345.1Q656.2 343.1 657.7 342.4L657.7 342.4Q659.3 341.6 660.8 342.9L669.2 349.6Q670.8 350.8 671.1 352.8L672.8 363.5Q673.1 365.5 671.2 364.8L662.7 361.6Q660.8 360.9 660.3 358.9Z" fill="#c9c9ce" stroke="#222" stroke-width="0.5" stroke-linejoin="round" stroke-linecap="round" /><ellipse cx="670.0" cy="326.5" rx="2.8" ry="3.8" fill="#fff" stroke="#222" stroke-width="0.45"/><path d="M663.1 325.4 L664.6 321.9 L669.3 320.4 L673.1 322.4 L671.6 325.0 L669.3 324.7 L668.5 328.5 L665.4 330.1Z" fill="#111" stroke="#111" stroke-width="0.3" stroke-linejoin="round" stroke-linecap="round" /><polyline points="720.1,361.6 717,373.2" fill="none" stroke="#222" stroke-width="1.2" stroke-linejoin="round" stroke-linecap="round" /><polyline points="735.5,369 738.6,386.6" fill="none" stroke="#222" stroke-width="1.2" stroke-linejoin="round" stroke-linecap="round" /><polyline points="751.2,360.1 754.3,377.3" fill="none" stroke="#222" stroke-width="1.2" stroke-linejoin="round" stroke-linecap="round" /><path d="M723.7 360.9Q722.4 360.1 723.7 359.3L738 351.3Q739.3 350.5 740.6 351.3L751.9 357.5Q753.2 358.2 752 359.1L738.3 368.2Q737 369 735.7 368.2Z" fill="#c9c9ce" stroke="#222" stroke-width="0.5" stroke-linejoin="round" stroke-linecap="round" /><path d="M740.7 342.8Q740.9 340.8 742.6 339.8L752.6 333.7Q754.3 332.7 755.2 334.4L755.8 335.5Q756.7 337.3 756.6 339.3L755.4 354.7Q755.2 356.7 753.4 357.6L742.7 363Q740.9 363.9 740.1 362.1L740.1 361.9Q739.3 360.1 739.5 358.1Z" fill="#c9c9ce" stroke="#222" stroke-width="0.6" stroke-linejoin="round" stroke-linecap="round" /><polyline points="746.3,337.8 743.5,361.6" fill="none" stroke="#222" stroke-width="0.6" stroke-linejoin="round" stroke-linecap="round" />
<path d="M826.0 389.2 L835.5 384.2 L835.5 397.6 L826.8 392.6Z" fill="#d7ea52" stroke="#666" stroke-width="0.3" stroke-linejoin="round" stroke-linecap="round" /><path d="M834.5 372.9Q834.5 370.9 836.2 371.8L838 372.8Q839.8 373.7 839.8 375.7L839.8 393.4Q839.8 395.4 838 396.3L837.2 396.8Q835.5 397.7 835.4 395.7Z" fill="#c9c9ce" stroke="#444" stroke-width="0.4" stroke-linejoin="round" stroke-linecap="round" /><path d="M791.4 372.7Q790.1 370 792.7 368.5L825.9 349Q828.5 347.5 831 348.9L831 348.9Q833.5 350.4 833.5 352.7L833.5 352.7Q833.5 355 830.9 356.6L796.8 376.8Q794.3 378.4 792.9 375.7Z" fill="#d7ea52" stroke="#666" stroke-width="0.35" stroke-linejoin="round" stroke-linecap="round" /><path d="M794.4 376.5Q794.3 372.5 797.8 370.6L830 352.8Q833.5 350.9 833.6 354.9L834.7 382.7Q834.8 386.7 831.3 388.6L798.6 405.7Q795.1 407.6 795 403.6Z" fill="#c9c9ce" stroke="#444" stroke-width="0.45" stroke-linejoin="round" stroke-linecap="round" /><path d="M748.4 398.9Q748.4 395.9 751 394.4L785.8 374.1Q788.4 372.5 790.8 373.8L790.8 373.8Q793.1 375 793.1 377.5L793.1 377.5Q793.1 380.1 790.5 381.6L756.3 401.9Q753.7 403.4 753.7 406.4L753.7 407.9Q753.7 410.9 751.1 409.7L751.1 409.7Q748.4 408.4 748.4 405.4Z" fill="#d7ea52" stroke="#666" stroke-width="0.35" stroke-linejoin="round" stroke-linecap="round" /><path d="M753.7 401.1Q753.7 397.1 757.2 395.1L789.6 376.7Q793.1 374.7 793.2 378.7L793.7 402.7Q793.8 406.7 790.3 408.8L762.1 426Q758.7 428.1 756.2 426.6L756.2 426.6Q753.7 425.1 753.7 421.1Z" fill="#c9c9ce" stroke="#444" stroke-width="0.45" stroke-linejoin="round" stroke-linecap="round" /><path d="M740.0 406.7 L748.4 402.6 L748.4 410.1 L755.1 416.8Z" fill="#d7ea52" stroke="none" stroke-width="0" stroke-linejoin="round" stroke-linecap="round" /><path d="M725.4 406.4Q725.4 403.4 727.3 402.4L727.3 402.4Q729.2 401.4 731.9 402.7L756 414.1Q758.7 415.4 758.7 418.4L758.7 436.3Q758.7 439.3 756.9 440.4L756.9 440.4Q755.1 441.4 752.4 440.1L728 427.3Q725.4 425.9 725.4 422.9Z" fill="#c9c9ce" stroke="#444" stroke-width="0.4" stroke-linejoin="round" stroke-linecap="round" /><path d="M725.4 407.2Q725.4 403.7 728.5 405.3L751.9 416.6Q755.1 418.1 755.1 421.6L755.1 437.9Q755.1 441.4 751.9 439.9L728.5 428Q725.4 426.4 725.4 422.9Z" fill="#d7ea52" stroke="#666" stroke-width="0.35" stroke-linejoin="round" stroke-linecap="round" />
<polygon points="628.7,423.8 631.1,424.8 633.9,425.4 636.9,425.4 639.7,424.8 642.1,423.8 643.9,422.4 644.8,420.8 644.8,419.1 643.9,417.5 642.1,416.1 604.9,394.6 602.5,393.6 599.7,393 596.7,393 593.9,393.6 591.5,394.6 589.7,396 588.8,397.6 588.8,399.3 589.7,400.9 591.5,402.3" fill="#c8c8cd" stroke="#777" stroke-width="0.5" stroke-linejoin="round" /><polygon points="628.7,420 631.1,421 633.9,421.6 636.9,421.6 639.7,421 642.1,420 643.9,418.6 644.8,417 644.8,415.3 643.9,413.7 642.1,412.3 604.9,390.8 602.5,389.8 599.7,389.2 596.7,389.2 593.9,389.8 591.5,390.8 589.7,392.2 588.8,393.8 588.8,395.5 589.7,397.1 591.5,398.5" fill="#fff" stroke="#777" stroke-width="0.5" stroke-linejoin="round" />
<polygon points="616.3,438.8 618.7,439.8 621.5,440.4 624.5,440.4 627.3,439.8 629.7,438.8 631.5,437.4 632.4,435.8 632.4,434.1 631.5,432.5 629.7,431.1 592.5,409.6 590.1,408.6 587.3,408 584.3,408 581.5,408.6 579.1,409.6 577.3,411 576.4,412.6 576.4,414.3 577.3,415.9 579.1,417.3" fill="#c8c8cd" stroke="#777" stroke-width="0.5" stroke-linejoin="round" /><polygon points="616.3,435 618.7,436 621.5,436.6 624.5,436.6 627.3,436 629.7,435 631.5,433.6 632.4,432 632.4,430.3 631.5,428.7 629.7,427.3 592.5,405.8 590.1,404.8 587.3,404.2 584.3,404.2 581.5,404.8 579.1,405.8 577.3,407.2 576.4,408.8 576.4,410.5 577.3,412.1 579.1,413.5" fill="#fff" stroke="#777" stroke-width="0.5" stroke-linejoin="round" />
<polygon points="604,454 606.4,455 609.2,455.6 612.2,455.6 615,455 617.4,454 619.2,452.6 620.1,451 620.1,449.3 619.2,447.7 617.4,446.3 580.2,424.8 577.8,423.8 575,423.2 572,423.2 569.2,423.8 566.8,424.8 565,426.2 564.1,427.8 564.1,429.5 565,431.1 566.8,432.5" fill="#c8c8cd" stroke="#777" stroke-width="0.5" stroke-linejoin="round" /><polygon points="604,450.2 606.4,451.2 609.2,451.8 612.2,451.8 615,451.2 617.4,450.2 619.2,448.8 620.1,447.2 620.1,445.5 619.2,443.9 617.4,442.5 580.2,421 577.8,420 575,419.4 572,419.4 569.2,420 566.8,421 565,422.4 564.1,424 564.1,425.7 565,427.3 566.8,428.7" fill="#fff" stroke="#777" stroke-width="0.5" stroke-linejoin="round" />
<polygon points="361.7,385.6 364.1,384.6 366.9,384 369.9,384 372.7,384.6 375.1,385.6 376.9,387 377.8,388.6 377.8,390.3 376.9,391.9 375.1,393.3 337.9,414.8 335.5,415.8 332.7,416.4 329.7,416.4 326.9,415.8 324.5,414.8 322.7,413.4 321.8,411.8 321.8,410.1 322.7,408.5 324.5,407.1" fill="#c8c8cd" stroke="#777" stroke-width="0.5" stroke-linejoin="round" /><polygon points="361.7,381.8 364.1,380.8 366.9,380.2 369.9,380.2 372.7,380.8 375.1,381.8 376.9,383.2 377.8,384.8 377.8,386.5 376.9,388.1 375.1,389.5 337.9,411 335.5,412 332.7,412.6 329.7,412.6 326.9,412 324.5,411 322.7,409.6 321.8,408 321.8,406.3 322.7,404.7 324.5,403.3" fill="#fff" stroke="#777" stroke-width="0.5" stroke-linejoin="round" />
<polygon points="374.1,400.8 376.5,399.8 379.3,399.2 382.3,399.2 385.1,399.8 387.5,400.8 389.3,402.2 390.2,403.8 390.2,405.5 389.3,407.1 387.5,408.5 350.3,430 347.9,431 345.1,431.6 342.1,431.6 339.3,431 336.9,430 335.1,428.6 334.2,427 334.2,425.3 335.1,423.7 336.9,422.3" fill="#c8c8cd" stroke="#777" stroke-width="0.5" stroke-linejoin="round" /><polygon points="374.1,397 376.5,396 379.3,395.4 382.3,395.4 385.1,396 387.5,397 389.3,398.4 390.2,400 390.2,401.7 389.3,403.3 387.5,404.7 350.3,426.2 347.9,427.2 345.1,427.8 342.1,427.8 339.3,427.2 336.9,426.2 335.1,424.8 334.2,423.2 334.2,421.5 335.1,419.9 336.9,418.5" fill="#fff" stroke="#777" stroke-width="0.5" stroke-linejoin="round" />
<polygon points="386.5,416 388.9,415 391.7,414.4 394.7,414.4 397.5,415 399.9,416 401.7,417.4 402.6,419 402.6,420.7 401.7,422.3 399.9,423.7 362.7,445.2 360.3,446.2 357.5,446.8 354.5,446.8 351.7,446.2 349.3,445.2 347.5,443.8 346.6,442.2 346.6,440.5 347.5,438.9 349.3,437.5" fill="#c8c8cd" stroke="#777" stroke-width="0.5" stroke-linejoin="round" /><polygon points="386.5,412.2 388.9,411.2 391.7,410.6 394.7,410.6 397.5,411.2 399.9,412.2 401.7,413.6 402.6,415.2 402.6,416.9 401.7,418.5 399.9,419.9 362.7,441.4 360.3,442.4 357.5,443 354.5,443 351.7,442.4 349.3,441.4 347.5,440 346.6,438.4 346.6,436.7 347.5,435.1 349.3,433.7" fill="#fff" stroke="#777" stroke-width="0.5" stroke-linejoin="round" />
<polygon points="398.9,431.2 401.3,430.2 404.1,429.6 407.1,429.6 409.9,430.2 412.3,431.2 414.1,432.6 415,434.2 415,435.9 414.1,437.5 412.3,438.9 375.1,460.4 372.7,461.4 369.9,462 366.9,462 364.1,461.4 361.7,460.4 359.9,459 359,457.4 359,455.7 359.9,454.1 361.7,452.7" fill="#c8c8cd" stroke="#777" stroke-width="0.5" stroke-linejoin="round" /><polygon points="398.9,427.4 401.3,426.4 404.1,425.8 407.1,425.8 409.9,426.4 412.3,427.4 414.1,428.8 415,430.4 415,432.1 414.1,433.7 412.3,435.1 375.1,456.6 372.7,457.6 369.9,458.2 366.9,458.2 364.1,457.6 361.7,456.6 359.9,455.2 359,453.6 359,451.9 359.9,450.3 361.7,448.9" fill="#fff" stroke="#777" stroke-width="0.5" stroke-linejoin="round" />
<path d="M289.3 532.9Q285 530.4 289.3 527.9L496.3 408.4Q500.6 405.9 505 408.4L703.3 522.9Q707.6 525.4 703.3 527.9L496.3 647.4Q492 649.9 487.6 647.4Z" fill="#c6c6cb" stroke="#666" stroke-width="0.5" stroke-linejoin="round" stroke-linecap="round" /><path d="M289.3 529.3Q285 526.8 289.3 524.3L496.3 404.8Q500.6 402.3 505 404.8L703.3 519.3Q707.6 521.8 703.3 524.3L496.3 643.8Q492 646.3 487.6 643.8Z" fill="#fff" stroke="#444" stroke-width="0.55" stroke-linejoin="round" stroke-linecap="round" />
<path d="M460.3 379.9 L668.4 498.6 L668.4 542.6 L460.3 423.9Z" fill="#fff" stroke="#222" stroke-width="0.4" stroke-linejoin="round" stroke-linecap="round" /><path d="M460.3 379.9 L462.2 378.8 L670.3 497.5 L668.4 498.6Z" fill="#999" stroke="#444" stroke-width="0.35" stroke-linejoin="round" stroke-linecap="round" /><polyline points="668.4,498.6 668.4,542.6" fill="none" stroke="#111" stroke-width="1.2" stroke-linejoin="round" stroke-linecap="round" />
<path d="M486.8 443.6 L494.4 439.7 L494.4 446.3 L491.1 448.5Z" fill="#bbb" stroke="#333" stroke-width="0.3" stroke-linejoin="round" stroke-linecap="round" /><path d="M441.3 425.8Q440 425 441.3 424.3L457.3 414.9Q458.6 414.1 459.9 414.8L499.1 436.8Q500.4 437.6 499.1 438.4L483.4 448.2Q482.2 449 480.9 448.3Z" fill="#ddd" stroke="#222" stroke-width="0.4" stroke-linejoin="round" stroke-linecap="round" /><path d="M441.3 424.7Q440 423.9 441.3 423.2L457.3 413.8Q458.6 413 459.9 413.7L499.1 435.7Q500.4 436.5 499.1 437.3L483.4 447.1Q482.2 447.9 480.9 447.2Z" fill="#fff" stroke="#222" stroke-width="0.45" stroke-linejoin="round" stroke-linecap="round" /><path d="M444.8 424.1Q444 423.6 444.9 423.2L450.4 420.7Q451.3 420.3 452.2 420.8L455.5 422.7Q456.4 423.2 455.5 423.6L450.5 426.4Q449.6 426.9 448.8 426.4Z" fill="#fff" stroke="#222" stroke-width="0.4" stroke-linejoin="round" stroke-linecap="round" /><polyline points="449.6,427.2 456.4,423.6" fill="none" stroke="#111" stroke-width="0.8" stroke-linejoin="round" stroke-linecap="round" /><path d="M460.9 416.8 L465.5 416.8 L464.7 423.6 L461.7 423.6Z" fill="#d7ea52" stroke="#667" stroke-width="0.3" stroke-linejoin="round" stroke-linecap="round" /><path d="M 462.7 416.8 Q 458.9 411.4 458.6 405.4 Q 462.7 409.2 464.1 416.6 Z" fill="#fff" stroke="#222" stroke-width="0.35" stroke-linejoin="round" stroke-linecap="round" /><path d="M 463.8 416.8 Q 465.1 410.3 467.7 407.2 Q 468.0 412.5 465.1 416.8 Z" fill="#fff" stroke="#222" stroke-width="0.35" stroke-linejoin="round" stroke-linecap="round" /><path d="M 462.5 416.6 Q 461.1 412.5 456.7 411.4 Q 458.6 415.2 461.9 416.8 Z" fill="#111" stroke="#111" stroke-width="0.3" stroke-linejoin="round" stroke-linecap="round" /><path d="M473.7 429.7 L483.7 434.5 L486.2 433.2 L476.4 428.3Z" fill="#fff" stroke="#222" stroke-width="0.35" stroke-linejoin="round" stroke-linecap="round" /><path d="M476.9 427.7 L479.7 429.1 L479.7 431.6 L476.9 430.1Z" fill="#ddd" stroke="#222" stroke-width="0.3" stroke-linejoin="round" stroke-linecap="round" /><path d="M468.4 413.4Q468.4 412.2 469.5 412.8L483.7 420.1Q484.8 420.6 484.8 421.8L484.8 431.8Q484.8 433 483.7 432.4L469.5 424.8Q468.4 424.2 468.4 423Z" fill="#fff" stroke="#222" stroke-width="0.6" stroke-linejoin="round" stroke-linecap="round" /><path d="M469.5 415.2Q469.5 414.4 470.2 414.8L483 421.4Q483.7 421.7 483.7 422.5L483.7 430.2Q483.7 431 483 430.6L470.2 424Q469.5 423.6 469.5 422.8Z" fill="#f6f6f6" stroke="#555" stroke-width="0.3" stroke-linejoin="round" stroke-linecap="round" /><path d="M479.7 423.2 L481.8 422.3 L481.8 427.7 L479.7 428.3Z" fill="#6b7a2a" stroke="none" stroke-width="0" stroke-linejoin="round" stroke-linecap="round" /><path d="M478.3 425.1 L479.7 424.5 L479.7 427.7 L478.3 427.7Z" fill="#8a9a3a" stroke="none" stroke-width="0" stroke-linejoin="round" stroke-linecap="round" /><path d="M466.6 434.8 L470.9 432.1 L482.6 438.7 L478.2 441.6Z" fill="#222" stroke="#111" stroke-width="0.3" stroke-linejoin="round" stroke-linecap="round" /><ellipse cx="485.7" cy="440.3" rx="1.7" ry="1.1" fill="#fff" stroke="#222" stroke-width="0.3"/><polyline points="448.6,460.5 448.8,466.5" fill="none" stroke="#555" stroke-width="1.2" stroke-linejoin="round" stroke-linecap="round" /><polyline points="448.8,466.5 440.4,471.6" fill="none" stroke="#111" stroke-width="2.0" stroke-linejoin="round" stroke-linecap="round" /><polyline points="448.8,466.5 440.7,466.5" fill="none" stroke="#111" stroke-width="2.0" stroke-linejoin="round" stroke-linecap="round" /><polyline points="448.8,466.5 456.7,464.8" fill="none" stroke="#111" stroke-width="2.0" stroke-linejoin="round" stroke-linecap="round" /><polyline points="448.8,466.5 457.1,472.9" fill="none" stroke="#111" stroke-width="2.0" stroke-linejoin="round" stroke-linecap="round" /><circle cx="440.4" cy="471.6" r="0.7" fill="#eee" stroke="#333" stroke-width="0.25"/><circle cx="440.7" cy="466.5" r="0.7" fill="#eee" stroke="#333" stroke-width="0.25"/><circle cx="456.7" cy="464.8" r="0.7" fill="#eee" stroke="#333" stroke-width="0.25"/><circle cx="457.1" cy="472.9" r="0.7" fill="#eee" stroke="#333" stroke-width="0.25"/><path d="M454.6 453.4 L458.9 453.9 L460.0 463.2 L456.2 463.8Z" fill="#fff" stroke="#222" stroke-width="0.35" stroke-linejoin="round" stroke-linecap="round" /><path d="M458.4 451.8 L464.4 449.0 L466.6 450.1 L466.0 465.9 L463.3 465.9 L462.7 453.9 L459.5 454.5Z" fill="#fff" stroke="#222" stroke-width="0.35" stroke-linejoin="round" stroke-linecap="round" /><path d="M461.7 465.7 L468.4 465.9 L468.6 468.3 L462.2 468.7Z" fill="#111" stroke="#111" stroke-width="0.2" stroke-linejoin="round" stroke-linecap="round" /><path d="M455.1 463.2 L460.0 462.7 L460.6 465.1 L455.6 465.4Z" fill="#111" stroke="#111" stroke-width="0.2" stroke-linejoin="round" stroke-linecap="round" /><path d="M440.9 436.7 L447.5 434.8 L452.4 439.7 L457.3 447.4 L465.5 447.2 L466.6 449.6 L458.2 451.5 L452.4 452.3 L446.4 446.3Z" fill="#b9b9be" stroke="#222" stroke-width="0.4" stroke-linejoin="round" stroke-linecap="round" /><path d="M448.0 429.7 L451.5 430.1 L451.3 435.4 L448.6 435.6Z" fill="#fff" stroke="#222" stroke-width="0.3" stroke-linejoin="round" stroke-linecap="round" /><path d="M443.6 425.8 L449.1 424.5 L453.8 426.1 L451.3 429.7 L448.8 430.1 L446.9 433.0 L444.2 431.0Z" fill="#111" stroke="#111" stroke-width="0.3" stroke-linejoin="round" stroke-linecap="round" /><path d="M 438.2 438.1 Q 442.6 435.6 446.9 439.5 Q 450.2 447.4 452.0 460.7 Q 448.6 461.4 444.2 458.1 Q 439.3 451.8 437.6 441.9 Z" fill="#d7ea52" stroke="#556" stroke-width="0.4" stroke-linejoin="round" stroke-linecap="round" /><path d="M 451.5 454.5 L 461.3 450.9 Q 462.7 451.2 462.3 452.2 L 453.5 456.8 Z" fill="#d7ea52" stroke="#556" stroke-width="0.3" stroke-linejoin="round" stroke-linecap="round" />
<path d="M469.7 460.2 L535.7 422.8 L535.7 466.8 L469.7 504.2Z" fill="#c9c9ce" stroke="#222" stroke-width="0.4" stroke-linejoin="round" stroke-linecap="round" /><path d="M469.7 460.2 L467.5 458.9 L533.5 421.5 L535.7 422.8Z" fill="#ddd" stroke="#444" stroke-width="0.35" stroke-linejoin="round" stroke-linecap="round" /><polyline points="469.7,460.2 469.7,504.2" fill="none" stroke="#111" stroke-width="1.2" stroke-linejoin="round" stroke-linecap="round" />
<path d="M555.5 486.9 L563.1 483.0 L563.1 489.6 L559.8 491.8Z" fill="#bbb" stroke="#333" stroke-width="0.3" stroke-linejoin="round" stroke-linecap="round" /><path d="M517.5 474.3 L520.7 474.3 L520.2 486.3 L518.0 486.3Z" fill="#c4c4c8" stroke="#555" stroke-width="0.3" stroke-linejoin="round" stroke-linecap="round" /><path d="M510 469.1Q508.7 468.3 510 467.6L526 458.2Q527.3 457.4 528.6 458.1L567.8 480.1Q569.1 480.9 567.8 481.7L552.1 491.5Q550.9 492.3 549.6 491.6Z" fill="#ddd" stroke="#222" stroke-width="0.4" stroke-linejoin="round" stroke-linecap="round" /><path d="M510 468Q508.7 467.2 510 466.5L526 457.1Q527.3 456.3 528.6 457L567.8 479Q569.1 479.8 567.8 480.6L552.1 490.4Q550.9 491.2 549.6 490.5Z" fill="#fff" stroke="#222" stroke-width="0.45" stroke-linejoin="round" stroke-linecap="round" /><path d="M513.5 467.4Q512.7 466.9 513.6 466.5L519.1 464Q520 463.6 520.9 464.1L524.2 466Q525.1 466.5 524.2 466.9L519.2 469.7Q518.3 470.2 517.5 469.7Z" fill="#fff" stroke="#222" stroke-width="0.4" stroke-linejoin="round" stroke-linecap="round" /><polyline points="518.3,470.5 525.1,466.9" fill="none" stroke="#111" stroke-width="0.8" stroke-linejoin="round" stroke-linecap="round" /><path d="M529.6 460.1 L534.2 460.1 L533.4 466.9 L530.4 466.9Z" fill="#d7ea52" stroke="#667" stroke-width="0.3" stroke-linejoin="round" stroke-linecap="round" /><path d="M 531.4 460.1 Q 527.6 454.7 527.3 448.7 Q 531.4 452.5 532.8 459.9 Z" fill="#fff" stroke="#222" stroke-width="0.35" stroke-linejoin="round" stroke-linecap="round" /><path d="M 532.5 460.1 Q 533.8 453.6 536.4 450.5 Q 536.7 455.8 533.8 460.1 Z" fill="#fff" stroke="#222" stroke-width="0.35" stroke-linejoin="round" stroke-linecap="round" /><path d="M 531.2 459.9 Q 529.8 455.8 525.4 454.7 Q 527.3 458.5 530.6 460.1 Z" fill="#111" stroke="#111" stroke-width="0.3" stroke-linejoin="round" stroke-linecap="round" /><path d="M542.4 473.0 L552.4 477.8 L554.9 476.5 L545.1 471.6Z" fill="#fff" stroke="#222" stroke-width="0.35" stroke-linejoin="round" stroke-linecap="round" /><path d="M545.6 471.0 L548.4 472.4 L548.4 474.9 L545.6 473.4Z" fill="#ddd" stroke="#222" stroke-width="0.3" stroke-linejoin="round" stroke-linecap="round" /><path d="M537.1 456.7Q537.1 455.5 538.2 456.1L552.4 463.4Q553.5 463.9 553.5 465.1L553.5 475.1Q553.5 476.3 552.4 475.7L538.2 468.1Q537.1 467.5 537.1 466.3Z" fill="#fff" stroke="#222" stroke-width="0.6" stroke-linejoin="round" stroke-linecap="round" /><path d="M538.2 458.5Q538.2 457.7 538.9 458.1L551.7 464.7Q552.4 465 552.4 465.8L552.4 473.5Q552.4 474.3 551.7 473.9L538.9 467.3Q538.2 466.9 538.2 466.1Z" fill="#f6f6f6" stroke="#555" stroke-width="0.3" stroke-linejoin="round" stroke-linecap="round" /><path d="M548.4 466.5 L550.5 465.6 L550.5 471.0 L548.4 471.6Z" fill="#6b7a2a" stroke="none" stroke-width="0" stroke-linejoin="round" stroke-linecap="round" /><path d="M547.0 468.4 L548.4 467.8 L548.4 471.0 L547.0 471.0Z" fill="#8a9a3a" stroke="none" stroke-width="0" stroke-linejoin="round" stroke-linecap="round" /><path d="M535.3 478.1 L539.6 475.4 L551.3 482.0 L546.9 484.9Z" fill="#222" stroke="#111" stroke-width="0.3" stroke-linejoin="round" stroke-linecap="round" /><ellipse cx="554.4" cy="483.6" rx="1.7" ry="1.1" fill="#fff" stroke="#222" stroke-width="0.3"/><polyline points="518,503.8 518,508.7" fill="none" stroke="#555" stroke-width="1.2" stroke-linejoin="round" stroke-linecap="round" /><polyline points="518,509 509.8,516" fill="none" stroke="#111" stroke-width="2.0" stroke-linejoin="round" stroke-linecap="round" /><polyline points="518,509 526.2,515.4" fill="none" stroke="#111" stroke-width="2.0" stroke-linejoin="round" stroke-linecap="round" /><polyline points="518,509 510.2,508.7" fill="none" stroke="#111" stroke-width="2.0" stroke-linejoin="round" stroke-linecap="round" /><polyline points="518,509 526.2,507.9" fill="none" stroke="#111" stroke-width="2.0" stroke-linejoin="round" stroke-linecap="round" /><circle cx="509.8" cy="516.0" r="0.7" fill="#eee" stroke="#333" stroke-width="0.25"/><circle cx="526.2" cy="515.4" r="0.7" fill="#eee" stroke="#333" stroke-width="0.25"/><circle cx="510.2" cy="508.7" r="0.7" fill="#eee" stroke="#333" stroke-width="0.25"/><circle cx="526.2" cy="507.9" r="0.7" fill="#eee" stroke="#333" stroke-width="0.25"/><path d="M 518.6 483.3 Q 526.0 478.5 529.5 481.7 Q 530.4 490.7 528.9 496.4 Q 524.9 502.1 518.6 504.0 Q 516.2 500.5 516.4 496.1 Q 516.7 487.4 518.6 483.3 Z" fill="#d7ea52" stroke="#556" stroke-width="0.4" stroke-linejoin="round" stroke-linecap="round" /><path d="M 506.6 494.0 Q 511.8 493.4 516.7 495.1 L 516.7 502.9 Q 511.8 502.7 508.5 501.6 Q 505.8 498.3 506.6 494.0 Z" fill="#d7ea52" stroke="#556" stroke-width="0.4" stroke-linejoin="round" stroke-linecap="round" /><path d="M 507.4 496.9 L 510.2 496.4 Q 510.9 499.4 510.7 501.8 L 508.3 501.8 Q 507.2 499.4 507.4 496.9 Z" fill="#111" stroke="#111" stroke-width="0.2" stroke-linejoin="round" stroke-linecap="round" />
<path d="M540.8 500.7 L606.8 463.3 L606.8 507.3 L540.8 544.7Z" fill="#c9c9ce" stroke="#222" stroke-width="0.4" stroke-linejoin="round" stroke-linecap="round" /><path d="M540.8 500.7 L538.6 499.4 L604.6 462.0 L606.8 463.3Z" fill="#ddd" stroke="#444" stroke-width="0.35" stroke-linejoin="round" stroke-linecap="round" /><polyline points="540.8,500.7 540.8,544.7" fill="none" stroke="#111" stroke-width="1.2" stroke-linejoin="round" stroke-linecap="round" />
<path d="M633.1 522.0 L635.7 522.5 L632.7 548.1 L630.0 547.6Z" fill="#c4c4c8" stroke="#555" stroke-width="0.3" stroke-linejoin="round" stroke-linecap="round" /><path d="M634.2 527.2 L635.7 526.3 L649.1 536.7 L647.7 538.1Z" fill="#c4c4c8" stroke="#555" stroke-width="0.3" stroke-linejoin="round" stroke-linecap="round" /><path d="M580.2 509.1Q578.9 508.3 580.2 507.6L596.2 498.2Q597.5 497.4 598.8 498.1L638 520.1Q639.3 520.9 638 521.7L622.3 531.5Q621.1 532.3 619.8 531.6Z" fill="#ddd" stroke="#222" stroke-width="0.4" stroke-linejoin="round" stroke-linecap="round" /><path d="M580.2 508Q578.9 507.2 580.2 506.5L596.2 497.1Q597.5 496.3 598.8 497L638 519Q639.3 519.8 638 520.6L622.3 530.4Q621.1 531.2 619.8 530.5Z" fill="#fff" stroke="#222" stroke-width="0.45" stroke-linejoin="round" stroke-linecap="round" /><path d="M583.7 507.4Q582.9 506.9 583.8 506.5L589.3 504Q590.2 503.6 591.1 504.1L594.4 506Q595.3 506.5 594.4 506.9L589.4 509.7Q588.5 510.2 587.7 509.7Z" fill="#fff" stroke="#222" stroke-width="0.4" stroke-linejoin="round" stroke-linecap="round" /><polyline points="588.5,510.5 595.3,506.9" fill="none" stroke="#111" stroke-width="0.8" stroke-linejoin="round" stroke-linecap="round" /><path d="M599.8 500.1 L604.4 500.1 L603.6 506.9 L600.6 506.9Z" fill="#d7ea52" stroke="#667" stroke-width="0.3" stroke-linejoin="round" stroke-linecap="round" /><path d="M 601.6 500.1 Q 597.8 494.7 597.5 488.7 Q 601.6 492.5 603.0 499.9 Z" fill="#fff" stroke="#222" stroke-width="0.35" stroke-linejoin="round" stroke-linecap="round" /><path d="M 602.7 500.1 Q 604.0 493.6 606.6 490.5 Q 606.9 495.8 604.0 500.1 Z" fill="#fff" stroke="#222" stroke-width="0.35" stroke-linejoin="round" stroke-linecap="round" /><path d="M 601.4 499.9 Q 600.0 495.8 595.6 494.7 Q 597.5 498.5 600.8 500.1 Z" fill="#111" stroke="#111" stroke-width="0.3" stroke-linejoin="round" stroke-linecap="round" /><path d="M612.6 513.0 L622.6 517.8 L625.1 516.5 L615.3 511.6Z" fill="#fff" stroke="#222" stroke-width="0.35" stroke-linejoin="round" stroke-linecap="round" /><path d="M615.8 511.0 L618.6 512.4 L618.6 514.9 L615.8 513.4Z" fill="#ddd" stroke="#222" stroke-width="0.3" stroke-linejoin="round" stroke-linecap="round" /><path d="M607.3 496.7Q607.3 495.5 608.4 496.1L622.6 503.4Q623.7 503.9 623.7 505.1L623.7 515.1Q623.7 516.3 622.6 515.7L608.4 508.1Q607.3 507.5 607.3 506.3Z" fill="#fff" stroke="#222" stroke-width="0.6" stroke-linejoin="round" stroke-linecap="round" /><path d="M608.4 498.5Q608.4 497.7 609.1 498.1L621.9 504.7Q622.6 505 622.6 505.8L622.6 513.5Q622.6 514.3 621.9 513.9L609.1 507.3Q608.4 506.9 608.4 506.1Z" fill="#f6f6f6" stroke="#555" stroke-width="0.3" stroke-linejoin="round" stroke-linecap="round" /><path d="M618.6 506.5 L620.7 505.6 L620.7 511.0 L618.6 511.6Z" fill="#6b7a2a" stroke="none" stroke-width="0" stroke-linejoin="round" stroke-linecap="round" /><path d="M617.2 508.4 L618.6 507.8 L618.6 511.0 L617.2 511.0Z" fill="#8a9a3a" stroke="none" stroke-width="0" stroke-linejoin="round" stroke-linecap="round" /><path d="M605.5 518.1 L609.8 515.4 L621.5 522.0 L617.1 524.9Z" fill="#222" stroke="#111" stroke-width="0.3" stroke-linejoin="round" stroke-linecap="round" /><ellipse cx="624.6" cy="523.6" rx="1.7" ry="1.1" fill="#fff" stroke="#222" stroke-width="0.3"/><polyline points="592,541.9 592.2,547.9" fill="none" stroke="#555" stroke-width="1.2" stroke-linejoin="round" stroke-linecap="round" /><polyline points="592.2,547.9 583.8,553" fill="none" stroke="#111" stroke-width="2.0" stroke-linejoin="round" stroke-linecap="round" /><polyline points="592.2,547.9 584.1,547.9" fill="none" stroke="#111" stroke-width="2.0" stroke-linejoin="round" stroke-linecap="round" /><polyline points="592.2,547.9 600.1,546.2" fill="none" stroke="#111" stroke-width="2.0" stroke-linejoin="round" stroke-linecap="round" /><polyline points="592.2,547.9 600.5,554.3" fill="none" stroke="#111" stroke-width="2.0" stroke-linejoin="round" stroke-linecap="round" /><circle cx="583.8" cy="553.0" r="0.7" fill="#eee" stroke="#333" stroke-width="0.25"/><circle cx="584.1" cy="547.9" r="0.7" fill="#eee" stroke="#333" stroke-width="0.25"/><circle cx="600.1" cy="546.2" r="0.7" fill="#eee" stroke="#333" stroke-width="0.25"/><circle cx="600.5" cy="554.3" r="0.7" fill="#eee" stroke="#333" stroke-width="0.25"/><path d="M602.8 536.1 L607.7 534.5 L612.0 544.8 L609.3 546.5Z" fill="#fff" stroke="#222" stroke-width="0.35" stroke-linejoin="round" stroke-linecap="round" /><path d="M608.2 545.9 L614.8 545.6 L614.4 547.6 L608.8 548.1Z" fill="#111" stroke="#111" stroke-width="0.2" stroke-linejoin="round" stroke-linecap="round" /><path d="M591.8 515.9 L596.2 514.8 L600.0 518.6 L607.1 520.8 L608.2 523.0 L601.7 524.1 L602.8 529.6 L607.1 531.7 L608.2 536.1 L602.8 537.2 L597.3 533.9 L593.5 525.2Z" fill="#fff" stroke="#222" stroke-width="0.4" stroke-linejoin="round" stroke-linecap="round" /><path d="M588.6 505.5 L592.5 503.9 L596.8 507.2 L596.4 516.5 L589.7 518.3 L588.1 512.4Z" fill="#111" stroke="#111" stroke-width="0.3" stroke-linejoin="round" stroke-linecap="round" /><path d="M 581.6 519.5 Q 586.0 517.0 590.3 520.9 Q 593.6 528.8 595.4 542.1 Q 592.0 542.8 587.6 539.5 Q 582.7 533.2 581.0 523.3 Z" fill="#d7ea52" stroke="#556" stroke-width="0.4" stroke-linejoin="round" stroke-linecap="round" /><path d="M 594.9 535.9 L 604.7 532.3 Q 606.1 532.6 605.7 533.6 L 596.9 538.2 Z" fill="#d7ea52" stroke="#556" stroke-width="0.3" stroke-linejoin="round" stroke-linecap="round" />
<path d="M364.1 434.9 L568.0 551.1 L568.0 595.1 L364.1 478.9Z" fill="#fff" stroke="#222" stroke-width="0.4" stroke-linejoin="round" stroke-linecap="round" /><path d="M364.1 434.9 L366.0 433.8 L569.9 550.0 L568.0 551.1Z" fill="#999" stroke="#444" stroke-width="0.35" stroke-linejoin="round" stroke-linecap="round" /><polyline points="568,551.1 568,595.1" fill="none" stroke="#111" stroke-width="1.2" stroke-linejoin="round" stroke-linecap="round" />
<path d="M389.9 498.6 L397.5 494.7 L397.5 501.3 L394.2 503.5Z" fill="#bbb" stroke="#333" stroke-width="0.3" stroke-linejoin="round" stroke-linecap="round" /><path d="M344.4 480.8Q343.1 480 344.4 479.3L360.4 469.9Q361.7 469.1 363 469.8L402.2 491.8Q403.5 492.6 402.2 493.4L386.5 503.2Q385.3 504 384 503.3Z" fill="#ddd" stroke="#222" stroke-width="0.4" stroke-linejoin="round" stroke-linecap="round" /><path d="M344.4 479.7Q343.1 478.9 344.4 478.2L360.4 468.8Q361.7 468 363 468.7L402.2 490.7Q403.5 491.5 402.2 492.3L386.5 502.1Q385.3 502.9 384 502.2Z" fill="#fff" stroke="#222" stroke-width="0.45" stroke-linejoin="round" stroke-linecap="round" /><path d="M347.9 479.1Q347.1 478.6 348 478.2L353.5 475.7Q354.4 475.3 355.3 475.8L358.6 477.7Q359.5 478.2 358.6 478.6L353.6 481.4Q352.7 481.9 351.9 481.4Z" fill="#fff" stroke="#222" stroke-width="0.4" stroke-linejoin="round" stroke-linecap="round" /><polyline points="352.7,482.2 359.5,478.6" fill="none" stroke="#111" stroke-width="0.8" stroke-linejoin="round" stroke-linecap="round" /><path d="M364.0 471.8 L368.6 471.8 L367.8 478.6 L364.8 478.6Z" fill="#d7ea52" stroke="#667" stroke-width="0.3" stroke-linejoin="round" stroke-linecap="round" /><path d="M 365.8 471.8 Q 362.0 466.4 361.7 460.4 Q 365.8 464.2 367.2 471.6 Z" fill="#fff" stroke="#222" stroke-width="0.35" stroke-linejoin="round" stroke-linecap="round" /><path d="M 366.9 471.8 Q 368.2 465.3 370.8 462.2 Q 371.1 467.5 368.2 471.8 Z" fill="#fff" stroke="#222" stroke-width="0.35" stroke-linejoin="round" stroke-linecap="round" /><path d="M 365.6 471.6 Q 364.2 467.5 359.8 466.4 Q 361.7 470.2 365.0 471.8 Z" fill="#111" stroke="#111" stroke-width="0.3" stroke-linejoin="round" stroke-linecap="round" /><path d="M376.8 484.7 L386.8 489.5 L389.3 488.2 L379.5 483.3Z" fill="#fff" stroke="#222" stroke-width="0.35" stroke-linejoin="round" stroke-linecap="round" /><path d="M380.0 482.7 L382.8 484.1 L382.8 486.6 L380.0 485.1Z" fill="#ddd" stroke="#222" stroke-width="0.3" stroke-linejoin="round" stroke-linecap="round" /><path d="M371.5 468.4Q371.5 467.2 372.6 467.8L386.8 475.1Q387.9 475.6 387.9 476.8L387.9 486.8Q387.9 488 386.8 487.4L372.6 479.8Q371.5 479.2 371.5 478Z" fill="#fff" stroke="#222" stroke-width="0.6" stroke-linejoin="round" stroke-linecap="round" /><path d="M372.6 470.2Q372.6 469.4 373.3 469.8L386.1 476.4Q386.8 476.7 386.8 477.5L386.8 485.2Q386.8 486 386.1 485.6L373.3 479Q372.6 478.6 372.6 477.8Z" fill="#f6f6f6" stroke="#555" stroke-width="0.3" stroke-linejoin="round" stroke-linecap="round" /><path d="M382.8 478.2 L384.9 477.3 L384.9 482.7 L382.8 483.3Z" fill="#6b7a2a" stroke="none" stroke-width="0" stroke-linejoin="round" stroke-linecap="round" /><path d="M381.4 480.1 L382.8 479.5 L382.8 482.7 L381.4 482.7Z" fill="#8a9a3a" stroke="none" stroke-width="0" stroke-linejoin="round" stroke-linecap="round" /><path d="M369.7 489.8 L374.0 487.1 L385.7 493.7 L381.3 496.6Z" fill="#222" stroke="#111" stroke-width="0.3" stroke-linejoin="round" stroke-linecap="round" /><ellipse cx="388.8" cy="495.3" rx="1.7" ry="1.1" fill="#fff" stroke="#222" stroke-width="0.3"/><polyline points="357.8,510.4 358,516.4" fill="none" stroke="#555" stroke-width="1.2" stroke-linejoin="round" stroke-linecap="round" /><polyline points="358,516.4 349.6,521.5" fill="none" stroke="#111" stroke-width="2.0" stroke-linejoin="round" stroke-linecap="round" /><polyline points="358,516.4 349.9,516.4" fill="none" stroke="#111" stroke-width="2.0" stroke-linejoin="round" stroke-linecap="round" /><polyline points="358,516.4 365.9,514.7" fill="none" stroke="#111" stroke-width="2.0" stroke-linejoin="round" stroke-linecap="round" /><polyline points="358,516.4 366.3,522.8" fill="none" stroke="#111" stroke-width="2.0" stroke-linejoin="round" stroke-linecap="round" /><circle cx="349.6" cy="521.5" r="0.7" fill="#eee" stroke="#333" stroke-width="0.25"/><circle cx="349.9" cy="516.4" r="0.7" fill="#eee" stroke="#333" stroke-width="0.25"/><circle cx="365.9" cy="514.7" r="0.7" fill="#eee" stroke="#333" stroke-width="0.25"/><circle cx="366.3" cy="522.8" r="0.7" fill="#eee" stroke="#333" stroke-width="0.25"/><path d="M363.8 503.3 L368.1 503.8 L369.2 513.1 L365.4 513.7Z" fill="#fff" stroke="#222" stroke-width="0.35" stroke-linejoin="round" stroke-linecap="round" /><path d="M367.6 501.7 L373.6 498.9 L375.8 500.0 L375.2 515.8 L372.5 515.8 L371.9 503.8 L368.7 504.4Z" fill="#fff" stroke="#222" stroke-width="0.35" stroke-linejoin="round" stroke-linecap="round" /><path d="M370.9 515.6 L377.6 515.8 L377.8 518.2 L371.4 518.6Z" fill="#111" stroke="#111" stroke-width="0.2" stroke-linejoin="round" stroke-linecap="round" /><path d="M364.3 513.1 L369.2 512.6 L369.8 515.0 L364.8 515.3Z" fill="#111" stroke="#111" stroke-width="0.2" stroke-linejoin="round" stroke-linecap="round" /><path d="M350.1 486.6 L356.7 484.7 L361.6 489.6 L366.5 497.3 L374.7 497.1 L375.8 499.5 L367.4 501.4 L361.6 502.2 L355.6 496.2Z" fill="#fff" stroke="#222" stroke-width="0.4" stroke-linejoin="round" stroke-linecap="round" /><path d="M357.2 479.6 L360.7 480.0 L360.5 485.3 L357.8 485.5Z" fill="#fff" stroke="#222" stroke-width="0.3" stroke-linejoin="round" stroke-linecap="round" /><path d="M352.8 475.7 L358.3 474.4 L363.0 476.0 L360.5 479.6 L358.0 480.0 L356.1 482.9 L353.4 480.9Z" fill="#111" stroke="#111" stroke-width="0.3" stroke-linejoin="round" stroke-linecap="round" /><path d="M 347.4 488.0 Q 351.8 485.5 356.1 489.4 Q 359.4 497.3 361.2 510.6 Q 357.8 511.3 353.4 508.0 Q 348.5 501.7 346.8 491.8 Z" fill="#d7ea52" stroke="#556" stroke-width="0.4" stroke-linejoin="round" stroke-linecap="round" /><path d="M 360.7 504.4 L 370.5 500.8 Q 371.9 501.1 371.5 502.1 L 362.7 506.7 Z" fill="#d7ea52" stroke="#556" stroke-width="0.3" stroke-linejoin="round" stroke-linecap="round" />
<path d="M372.9 515.4 L438.9 478.0 L438.9 522.0 L372.9 559.4Z" fill="#c9c9ce" stroke="#222" stroke-width="0.4" stroke-linejoin="round" stroke-linecap="round" /><path d="M372.9 515.4 L370.7 514.1 L436.7 476.7 L438.9 478.0Z" fill="#ddd" stroke="#444" stroke-width="0.35" stroke-linejoin="round" stroke-linecap="round" /><polyline points="372.9,515.4 372.9,559.4" fill="none" stroke="#111" stroke-width="1.2" stroke-linejoin="round" stroke-linecap="round" />
<path d="M459.4 540.9 L467.0 537.0 L467.0 543.6 L463.7 545.8Z" fill="#bbb" stroke="#333" stroke-width="0.3" stroke-linejoin="round" stroke-linecap="round" /><path d="M413.9 523.1Q412.6 522.3 413.9 521.6L429.9 512.2Q431.2 511.4 432.5 512.1L471.7 534.1Q473 534.9 471.7 535.7L456 545.5Q454.8 546.3 453.5 545.6Z" fill="#ddd" stroke="#222" stroke-width="0.4" stroke-linejoin="round" stroke-linecap="round" /><path d="M413.9 522Q412.6 521.2 413.9 520.5L429.9 511.1Q431.2 510.3 432.5 511L471.7 533Q473 533.8 471.7 534.6L456 544.4Q454.8 545.2 453.5 544.5Z" fill="#fff" stroke="#222" stroke-width="0.45" stroke-linejoin="round" stroke-linecap="round" /><path d="M442.5 524.0 L452.5 528.8 L455.0 527.5 L445.2 522.6Z" fill="#fff" stroke="#222" stroke-width="0.35" stroke-linejoin="round" stroke-linecap="round" /><path d="M445.7 522.0 L448.5 523.4 L448.5 525.9 L445.7 524.4Z" fill="#ddd" stroke="#222" stroke-width="0.3" stroke-linejoin="round" stroke-linecap="round" /><path d="M437.2 507.7Q437.2 506.5 438.3 507.1L452.5 514.4Q453.6 514.9 453.6 516.1L453.6 526.1Q453.6 527.3 452.5 526.7L438.3 519.1Q437.2 518.5 437.2 517.3Z" fill="#fff" stroke="#222" stroke-width="0.6" stroke-linejoin="round" stroke-linecap="round" /><path d="M438.3 509.5Q438.3 508.7 439 509.1L451.8 515.7Q452.5 516 452.5 516.8L452.5 524.5Q452.5 525.3 451.8 524.9L439 518.3Q438.3 517.9 438.3 517.1Z" fill="#f6f6f6" stroke="#555" stroke-width="0.3" stroke-linejoin="round" stroke-linecap="round" /><path d="M448.5 517.5 L450.6 516.6 L450.6 522.0 L448.5 522.6Z" fill="#6b7a2a" stroke="none" stroke-width="0" stroke-linejoin="round" stroke-linecap="round" /><path d="M447.1 519.4 L448.5 518.8 L448.5 522.0 L447.1 522.0Z" fill="#8a9a3a" stroke="none" stroke-width="0" stroke-linejoin="round" stroke-linecap="round" /><path d="M439.2 532.1 L443.5 529.4 L455.2 536.0 L450.8 538.9Z" fill="#222" stroke="#111" stroke-width="0.3" stroke-linejoin="round" stroke-linecap="round" /><ellipse cx="458.3" cy="537.6" rx="1.7" ry="1.1" fill="#fff" stroke="#222" stroke-width="0.3"/><polyline points="425.1,554.5 425.3,560.5" fill="none" stroke="#555" stroke-width="1.2" stroke-linejoin="round" stroke-linecap="round" /><polyline points="425.3,560.5 416.9,565.6" fill="none" stroke="#111" stroke-width="2.0" stroke-linejoin="round" stroke-linecap="round" /><polyline points="425.3,560.5 417.2,560.5" fill="none" stroke="#111" stroke-width="2.0" stroke-linejoin="round" stroke-linecap="round" /><polyline points="425.3,560.5 433.2,558.8" fill="none" stroke="#111" stroke-width="2.0" stroke-linejoin="round" stroke-linecap="round" /><polyline points="425.3,560.5 433.6,566.9" fill="none" stroke="#111" stroke-width="2.0" stroke-linejoin="round" stroke-linecap="round" /><circle cx="416.9" cy="565.6" r="0.7" fill="#eee" stroke="#333" stroke-width="0.25"/><circle cx="417.2" cy="560.5" r="0.7" fill="#eee" stroke="#333" stroke-width="0.25"/><circle cx="433.2" cy="558.8" r="0.7" fill="#eee" stroke="#333" stroke-width="0.25"/><circle cx="433.6" cy="566.9" r="0.7" fill="#eee" stroke="#333" stroke-width="0.25"/><path d="M435.9 548.7 L440.8 547.1 L445.1 557.4 L442.4 559.1Z" fill="#fff" stroke="#222" stroke-width="0.35" stroke-linejoin="round" stroke-linecap="round" /><path d="M441.3 558.5 L447.9 558.2 L447.5 560.2 L441.9 560.7Z" fill="#111" stroke="#111" stroke-width="0.2" stroke-linejoin="round" stroke-linecap="round" /><path d="M424.9 528.5 L429.3 527.4 L433.1 531.2 L440.2 533.4 L441.3 535.6 L434.8 536.7 L435.9 542.2 L440.2 544.3 L441.3 548.7 L435.9 549.8 L430.4 546.5 L426.6 537.8Z" fill="#b9b9be" stroke="#222" stroke-width="0.4" stroke-linejoin="round" stroke-linecap="round" /><path d="M421.7 518.1 L425.6 516.5 L429.9 519.8 L429.5 529.1 L422.8 530.9 L421.2 525.0Z" fill="#111" stroke="#111" stroke-width="0.3" stroke-linejoin="round" stroke-linecap="round" /><path d="M 414.7 532.1 Q 419.1 529.6 423.4 533.5 Q 426.7 541.4 428.5 554.7 Q 425.1 555.4 420.7 552.1 Q 415.8 545.8 414.1 535.9 Z" fill="#d7ea52" stroke="#556" stroke-width="0.4" stroke-linejoin="round" stroke-linecap="round" /><path d="M 428.0 548.5 L 437.8 544.9 Q 439.2 545.2 438.8 546.2 L 430.0 550.8 Z" fill="#d7ea52" stroke="#556" stroke-width="0.3" stroke-linejoin="round" stroke-linecap="round" />
<path d="M444.0 555.9 L510.0 518.5 L510.0 562.5 L444.0 599.9Z" fill="#c9c9ce" stroke="#222" stroke-width="0.4" stroke-linejoin="round" stroke-linecap="round" /><path d="M444.0 555.9 L441.8 554.6 L507.8 517.2 L510.0 518.5Z" fill="#ddd" stroke="#444" stroke-width="0.35" stroke-linejoin="round" stroke-linecap="round" /><polyline points="444,555.9 444,599.9" fill="none" stroke="#111" stroke-width="1.2" stroke-linejoin="round" stroke-linecap="round" />
<path d="M536.8 576.5 L539.4 577.0 L536.4 602.6 L533.7 602.1Z" fill="#c4c4c8" stroke="#555" stroke-width="0.3" stroke-linejoin="round" stroke-linecap="round" /><path d="M537.9 581.7 L539.4 580.8 L552.8 591.2 L551.4 592.6Z" fill="#c4c4c8" stroke="#555" stroke-width="0.3" stroke-linejoin="round" stroke-linecap="round" /><path d="M483.9 563.6Q482.6 562.8 483.9 562.1L499.9 552.7Q501.2 551.9 502.5 552.6L541.7 574.6Q543 575.4 541.7 576.2L526 586Q524.8 586.8 523.5 586.1Z" fill="#ddd" stroke="#222" stroke-width="0.4" stroke-linejoin="round" stroke-linecap="round" /><path d="M483.9 562.5Q482.6 561.7 483.9 561L499.9 551.6Q501.2 550.8 502.5 551.5L541.7 573.5Q543 574.3 541.7 575.1L526 584.9Q524.8 585.7 523.5 585Z" fill="#fff" stroke="#222" stroke-width="0.45" stroke-linejoin="round" stroke-linecap="round" /><path d="M487.4 561.9Q486.6 561.4 487.5 561L493 558.5Q493.9 558.1 494.8 558.6L498.1 560.5Q499 561 498.1 561.4L493.1 564.2Q492.2 564.7 491.4 564.2Z" fill="#fff" stroke="#222" stroke-width="0.4" stroke-linejoin="round" stroke-linecap="round" /><polyline points="492.2,565 499,561.4" fill="none" stroke="#111" stroke-width="0.8" stroke-linejoin="round" stroke-linecap="round" /><path d="M503.5 554.6 L508.1 554.6 L507.3 561.4 L504.3 561.4Z" fill="#d7ea52" stroke="#667" stroke-width="0.3" stroke-linejoin="round" stroke-linecap="round" /><path d="M 505.3 554.6 Q 501.5 549.2 501.2 543.2 Q 505.3 547.0 506.7 554.4 Z" fill="#fff" stroke="#222" stroke-width="0.35" stroke-linejoin="round" stroke-linecap="round" /><path d="M 506.4 554.6 Q 507.7 548.1 510.3 545.0 Q 510.6 550.3 507.7 554.6 Z" fill="#fff" stroke="#222" stroke-width="0.35" stroke-linejoin="round" stroke-linecap="round" /><path d="M 505.1 554.4 Q 503.7 550.3 499.3 549.2 Q 501.2 553.0 504.5 554.6 Z" fill="#111" stroke="#111" stroke-width="0.3" stroke-linejoin="round" stroke-linecap="round" /><path d="M516.3 567.5 L526.3 572.3 L528.8 571.0 L519.0 566.1Z" fill="#fff" stroke="#222" stroke-width="0.35" stroke-linejoin="round" stroke-linecap="round" /><path d="M519.5 565.5 L522.3 566.9 L522.3 569.4 L519.5 567.9Z" fill="#ddd" stroke="#222" stroke-width="0.3" stroke-linejoin="round" stroke-linecap="round" /><path d="M511 551.2Q511 550 512.1 550.6L526.3 557.9Q527.4 558.4 527.4 559.6L527.4 569.6Q527.4 570.8 526.3 570.2L512.1 562.6Q511 562 511 560.8Z" fill="#fff" stroke="#222" stroke-width="0.6" stroke-linejoin="round" stroke-linecap="round" /><path d="M512.1 553Q512.1 552.2 512.8 552.6L525.6 559.2Q526.3 559.5 526.3 560.3L526.3 568Q526.3 568.8 525.6 568.4L512.8 561.8Q512.1 561.4 512.1 560.6Z" fill="#f6f6f6" stroke="#555" stroke-width="0.3" stroke-linejoin="round" stroke-linecap="round" /><path d="M522.3 561.0 L524.4 560.1 L524.4 565.5 L522.3 566.1Z" fill="#6b7a2a" stroke="none" stroke-width="0" stroke-linejoin="round" stroke-linecap="round" /><path d="M520.9 562.9 L522.3 562.3 L522.3 565.5 L520.9 565.5Z" fill="#8a9a3a" stroke="none" stroke-width="0" stroke-linejoin="round" stroke-linecap="round" /><path d="M509.2 572.6 L513.5 569.9 L525.2 576.5 L520.8 579.4Z" fill="#222" stroke="#111" stroke-width="0.3" stroke-linejoin="round" stroke-linecap="round" /><ellipse cx="528.3" cy="578.1" rx="1.7" ry="1.1" fill="#fff" stroke="#222" stroke-width="0.3"/><polyline points="495.7,594.5 495.9,600.5" fill="none" stroke="#555" stroke-width="1.2" stroke-linejoin="round" stroke-linecap="round" /><polyline points="495.9,600.5 487.5,605.6" fill="none" stroke="#111" stroke-width="2.0" stroke-linejoin="round" stroke-linecap="round" /><polyline points="495.9,600.5 487.8,600.5" fill="none" stroke="#111" stroke-width="2.0" stroke-linejoin="round" stroke-linecap="round" /><polyline points="495.9,600.5 503.8,598.8" fill="none" stroke="#111" stroke-width="2.0" stroke-linejoin="round" stroke-linecap="round" /><polyline points="495.9,600.5 504.2,606.9" fill="none" stroke="#111" stroke-width="2.0" stroke-linejoin="round" stroke-linecap="round" /><circle cx="487.5" cy="605.6" r="0.7" fill="#eee" stroke="#333" stroke-width="0.25"/><circle cx="487.8" cy="600.5" r="0.7" fill="#eee" stroke="#333" stroke-width="0.25"/><circle cx="503.8" cy="598.8" r="0.7" fill="#eee" stroke="#333" stroke-width="0.25"/><circle cx="504.2" cy="606.9" r="0.7" fill="#eee" stroke="#333" stroke-width="0.25"/><path d="M501.7 587.4 L506.0 587.9 L507.1 597.2 L503.3 597.8Z" fill="#111" stroke="#222" stroke-width="0.35" stroke-linejoin="round" stroke-linecap="round" /><path d="M505.5 585.8 L511.5 583.0 L513.7 584.1 L513.1 599.9 L510.4 599.9 L509.8 587.9 L506.6 588.5Z" fill="#111" stroke="#222" stroke-width="0.35" stroke-linejoin="round" stroke-linecap="round" /><path d="M508.8 599.7 L515.5 599.9 L515.7 602.3 L509.3 602.7Z" fill="#111" stroke="#111" stroke-width="0.2" stroke-linejoin="round" stroke-linecap="round" /><path d="M502.2 597.2 L507.1 596.7 L507.7 599.1 L502.7 599.4Z" fill="#111" stroke="#111" stroke-width="0.2" stroke-linejoin="round" stroke-linecap="round" /><path d="M488.0 570.7 L494.6 568.8 L499.5 573.7 L504.4 581.4 L512.6 581.2 L513.7 583.6 L505.3 585.5 L499.5 586.3 L493.5 580.3Z" fill="#b9b9be" stroke="#222" stroke-width="0.4" stroke-linejoin="round" stroke-linecap="round" /><path d="M495.1 563.7 L498.6 564.1 L498.4 569.4 L495.7 569.6Z" fill="#fff" stroke="#222" stroke-width="0.3" stroke-linejoin="round" stroke-linecap="round" /><path d="M490.7 559.8 L496.2 558.5 L500.9 560.1 L498.4 563.7 L495.9 564.1 L494.0 567.0 L491.3 565.0Z" fill="#111" stroke="#111" stroke-width="0.3" stroke-linejoin="round" stroke-linecap="round" /><path d="M512.0 574.8 L516.4 573.2 L519.1 580.3 L514.2 581.4Z" fill="#fff" stroke="#222" stroke-width="0.3" stroke-linejoin="round" stroke-linecap="round" /><path d="M 485.3 572.1 Q 489.7 569.6 494.0 573.5 Q 497.3 581.4 499.1 594.7 Q 495.7 595.4 491.3 592.1 Q 486.4 585.8 484.7 575.9 Z" fill="#d7ea52" stroke="#556" stroke-width="0.4" stroke-linejoin="round" stroke-linecap="round" /><path d="M 498.6 588.5 L 508.4 584.9 Q 509.8 585.2 509.4 586.2 L 500.6 590.8 Z" fill="#d7ea52" stroke="#556" stroke-width="0.3" stroke-linejoin="round" stroke-linecap="round" />
<polyline points="238,41.8 316,41.8 368,62" fill="none" stroke="#333" stroke-width="0.5" stroke-linejoin="round" stroke-linecap="round" />
<circle cx="238" cy="41.8" r="1.5" fill="#111"/>
<polyline points="781.6,76.4 736.6,103.4 736.6,132" fill="none" stroke="#333" stroke-width="0.5" stroke-linejoin="round" stroke-linecap="round" />
<circle cx="781.6" cy="76.4" r="1.5" fill="#111"/>
<polyline points="62.4,455 62.4,510.5 110,558" fill="none" stroke="#333" stroke-width="0.5" stroke-linejoin="round" stroke-linecap="round" />
<circle cx="110" cy="558" r="1.5" fill="#111"/>
<polyline points="764.6,565.2 714,630.5 636,630.5" fill="none" stroke="#333" stroke-width="0.5" stroke-linejoin="round" stroke-linecap="round" />
<circle cx="764.6" cy="565.2" r="1.5" fill="#111"/>
<circle cx="380" cy="66.9" r="18.5" fill="url(#glow)"/><circle cx="380" cy="66.4" r="15.1" fill="#000"/><text x="380" y="74.7" font-size="23" font-weight="700" fill="#fff" text-anchor="middle">2</text>
<circle cx="736.6" cy="145.9" r="18.5" fill="url(#glow)"/><circle cx="736.6" cy="145.4" r="15.1" fill="#000"/><text x="736.6" y="153.7" font-size="23" font-weight="700" fill="#fff" text-anchor="middle">1</text>
<circle cx="62.4" cy="442" r="18.5" fill="url(#glow)"/><circle cx="62.4" cy="441.5" r="15.1" fill="#000"/><text x="62.4" y="449.8" font-size="23" font-weight="700" fill="#fff" text-anchor="middle">3</text>
<circle cx="621.7" cy="631.2" r="18.5" fill="url(#glow)"/><circle cx="621.7" cy="630.7" r="15.1" fill="#000"/><text x="621.7" y="639" font-size="23" font-weight="700" fill="#fff" text-anchor="middle">4</text>
<text x="123" y="48" font-size="16" font-weight="700" fill="#111">Room call 1</text><text x="123" y="61.8" font-size="4.92" fill="#111">Lorem ipsum dolor sit amet, consectetur adipiscing elit, sed do eiusmod</text><text x="123" y="69" font-size="4.92" fill="#111">tempor incididunt ut labore et dolore magna aliqua. Ut enim ad minim veniam,</text><text x="123" y="76.3" font-size="4.92" fill="#111">quis nostrud exercitation ullamco laboris nisi ut aliquip ex ea commodo</text><text x="123" y="83.5" font-size="4.92" fill="#111">consequat. Duis aute irure dolor in reprehenderit in voluptate velit esse cillum</text><text x="123" y="90.8" font-size="4.92" fill="#111">dolore eu fugiat nulla pariatur. Excepteur sint occaecat cupidatat non</text><text x="123" y="98" font-size="4.92" fill="#111">proident, sunt in culpa qui officia deserunt mollit anim id est laborum</text>
<text x="793" y="76.4" font-size="16" font-weight="700" fill="#111">Restroom</text><text x="793" y="89.8" font-size="4.92" fill="#111">Lorem ipsum dolor sit amet, consectetur adipiscing elit, sed do eiusmod</text><text x="793" y="97" font-size="4.92" fill="#111">tempor incididunt ut labore et dolore magna aliqua. Ut enim ad minim</text><text x="793" y="104.3" font-size="4.92" fill="#111">veniam, quis nostrud exercitation ullamco laboris nisi ut aliquip ex ea</text><text x="793" y="111.5" font-size="4.92" fill="#111">commodo consequat. Duis aute irure dolor in reprehenderit in voluptate velit</text><text x="793" y="118.8" font-size="4.92" fill="#111">esse cillum dolore eu fugiat nulla pariatur. Excepteur sint occaecat cupidatat</text><text x="793" y="126" font-size="4.92" fill="#111">non proident, sunt in culpa qui officia deserunt mollit anim id est laborum</text>
<text x="120.6" y="558.5" font-size="16" font-weight="700" fill="#111">Conference room</text><text x="120.6" y="571.8" font-size="4.92" fill="#111">Lorem ipsum dolor sit amet, consectetur adipiscing elit, sed do eiusmod</text><text x="120.6" y="579" font-size="4.92" fill="#111">tempor incididunt ut labore et dolore magna aliqua. Ut enim ad minim veniam,</text><text x="120.6" y="586.3" font-size="4.92" fill="#111">quis nostrud exercitation ullamco laboris nisi ut aliquip ex ea commodo</text><text x="120.6" y="593.5" font-size="4.92" fill="#111">consequat. Duis aute irure dolor in reprehenderit in voluptate velit esse cillum</text><text x="120.6" y="600.8" font-size="4.92" fill="#111">dolore eu fugiat nulla pariatur. Excepteur sint occaecat cupidatat non</text><text x="120.6" y="608" font-size="4.92" fill="#111">proident, sunt in culpa qui officia deserunt mollit anim id est laborum</text>
<text x="775.4" y="566" font-size="16" font-weight="700" fill="#111">Room call 2</text><text x="775.4" y="578.8" font-size="4.92" fill="#111">Lorem ipsum dolor sit amet, consectetur adipiscing elit, sed do eiusmod</text><text x="775.4" y="586" font-size="4.92" fill="#111">tempor incididunt ut labore et dolore magna aliqua. Ut enim ad minim</text><text x="775.4" y="593.3" font-size="4.92" fill="#111">veniam, quis nostrud exercitation ullamco laboris nisi ut aliquip ex ea</text><text x="775.4" y="600.5" font-size="4.92" fill="#111">commodo consequat. Duis aute irure dolor in reprehenderit in voluptate velit</text><text x="775.4" y="607.8" font-size="4.92" fill="#111">esse cillum dolore eu fugiat nulla pariatur. Excepteur sint occaecat cupidatat</text><text x="775.4" y="615" font-size="4.92" fill="#111">non proident, sunt in culpa qui officia deserunt mollit anim id est laborum</text>
<rect x="0" y="699" width="1000" height="80" fill="#000"/>
<text x="26.5" y="751.5" font-size="36.5" fill="#fff" stroke="#fff" stroke-width="0.5" letter-spacing="-0.1">VectorStock</text>
<text x="683" y="750.5" font-size="24" fill="#fff" stroke="#fff" stroke-width="0.35" letter-spacing="-0.2">VectorStock.com/52019217</text></svg></body></html>
